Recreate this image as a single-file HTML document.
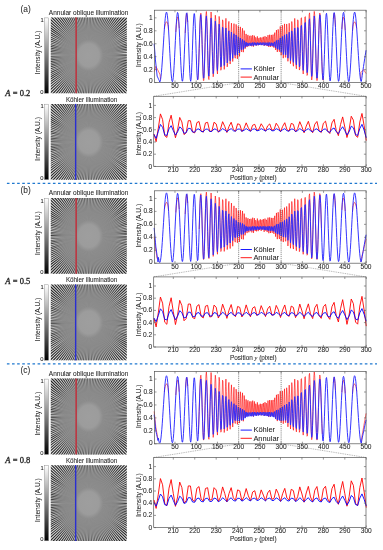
<!DOCTYPE html>
<html><head><meta charset="utf-8"><style>
html,body{margin:0;padding:0;background:#fff}
body{width:383px;height:550px;position:relative;overflow:hidden}
</style></head><body>

<svg width="383" height="550" viewBox="0 0 383 550" style="position:absolute;left:0;top:0">
<style>text{stroke:#333;stroke-width:0.06px}</style>
<defs><linearGradient id="cb" x1="0" y1="0" x2="0" y2="1"><stop offset="0" stop-color="#fff"/><stop offset="1" stop-color="#000"/></linearGradient><radialGradient id="cg" cx="0" cy="0" r="53" gradientUnits="userSpaceOnUse" gradientTransform="scale(1.03,1.13)"><stop offset="0.000" stop-color="#9e9e9e" stop-opacity="1"/><stop offset="0.189" stop-color="#9c9c9c" stop-opacity="1"/><stop offset="0.264" stop-color="#8d8d8d" stop-opacity="0.95"/><stop offset="0.491" stop-color="#8a8a8a" stop-opacity="0.88"/><stop offset="0.585" stop-color="#8a8a8a" stop-opacity="0.6"/><stop offset="0.660" stop-color="#888" stop-opacity="0.3"/><stop offset="0.755" stop-color="#888" stop-opacity="0.1"/><stop offset="1.000" stop-color="#888" stop-opacity="0"/></radialGradient><clipPath id="ic"><rect x="-38" y="-37.9" width="76" height="75.8"/></clipPath><g id="star" clip-path="url(#ic)"><rect x="-40" y="-40" width="80" height="80" fill="#e0e0e0"/><path d="M0 0L80.00 0.00L79.98 1.75ZM0 0L79.92 3.49L79.83 5.23ZM0 0L79.70 6.97L79.52 8.71ZM0 0L79.32 10.44L79.07 12.17ZM0 0L78.78 13.89L78.46 15.61ZM0 0L78.10 17.32L77.71 19.01ZM0 0L77.27 20.71L76.80 22.39ZM0 0L76.30 24.06L75.75 25.72ZM0 0L75.18 27.36L74.56 29.00ZM0 0L73.91 30.61L73.22 32.22ZM0 0L72.50 33.81L71.75 35.38ZM0 0L70.96 36.94L70.14 38.48ZM0 0L69.28 40.00L68.39 41.50ZM0 0L67.47 42.98L66.52 44.45ZM0 0L65.53 45.89L64.52 47.30ZM0 0L63.47 48.70L62.39 50.07ZM0 0L61.28 51.42L60.15 52.75ZM0 0L58.98 54.05L57.79 55.32ZM0 0L56.57 56.57L55.32 57.79ZM0 0L54.05 58.98L52.75 60.15ZM0 0L51.42 61.28L50.07 62.39ZM0 0L48.70 63.47L47.30 64.52ZM0 0L45.89 65.53L44.45 66.52ZM0 0L42.98 67.47L41.50 68.39ZM0 0L40.00 69.28L38.48 70.14ZM0 0L36.94 70.96L35.38 71.75ZM0 0L33.81 72.50L32.22 73.22ZM0 0L30.61 73.91L29.00 74.56ZM0 0L27.36 75.18L25.72 75.75ZM0 0L24.06 76.30L22.39 76.80ZM0 0L20.71 77.27L19.01 77.71ZM0 0L17.32 78.10L15.61 78.46ZM0 0L13.89 78.78L12.17 79.07ZM0 0L10.44 79.32L8.71 79.52ZM0 0L6.97 79.70L5.23 79.83ZM0 0L3.49 79.92L1.75 79.98ZM0 0L0.00 80.00L-1.75 79.98ZM0 0L-3.49 79.92L-5.23 79.83ZM0 0L-6.97 79.70L-8.71 79.52ZM0 0L-10.44 79.32L-12.17 79.07ZM0 0L-13.89 78.78L-15.61 78.46ZM0 0L-17.32 78.10L-19.01 77.71ZM0 0L-20.71 77.27L-22.39 76.80ZM0 0L-24.06 76.30L-25.72 75.75ZM0 0L-27.36 75.18L-29.00 74.56ZM0 0L-30.61 73.91L-32.22 73.22ZM0 0L-33.81 72.50L-35.38 71.75ZM0 0L-36.94 70.96L-38.48 70.14ZM0 0L-40.00 69.28L-41.50 68.39ZM0 0L-42.98 67.47L-44.45 66.52ZM0 0L-45.89 65.53L-47.30 64.52ZM0 0L-48.70 63.47L-50.07 62.39ZM0 0L-51.42 61.28L-52.75 60.15ZM0 0L-54.05 58.98L-55.32 57.79ZM0 0L-56.57 56.57L-57.79 55.32ZM0 0L-58.98 54.05L-60.15 52.75ZM0 0L-61.28 51.42L-62.39 50.07ZM0 0L-63.47 48.70L-64.52 47.30ZM0 0L-65.53 45.89L-66.52 44.45ZM0 0L-67.47 42.98L-68.39 41.50ZM0 0L-69.28 40.00L-70.14 38.48ZM0 0L-70.96 36.94L-71.75 35.38ZM0 0L-72.50 33.81L-73.22 32.22ZM0 0L-73.91 30.61L-74.56 29.00ZM0 0L-75.18 27.36L-75.75 25.72ZM0 0L-76.30 24.06L-76.80 22.39ZM0 0L-77.27 20.71L-77.71 19.01ZM0 0L-78.10 17.32L-78.46 15.61ZM0 0L-78.78 13.89L-79.07 12.17ZM0 0L-79.32 10.44L-79.52 8.71ZM0 0L-79.70 6.97L-79.83 5.23ZM0 0L-79.92 3.49L-79.98 1.75ZM0 0L-80.00 0.00L-79.98 -1.75ZM0 0L-79.92 -3.49L-79.83 -5.23ZM0 0L-79.70 -6.97L-79.52 -8.71ZM0 0L-79.32 -10.44L-79.07 -12.17ZM0 0L-78.78 -13.89L-78.46 -15.61ZM0 0L-78.10 -17.32L-77.71 -19.01ZM0 0L-77.27 -20.71L-76.80 -22.39ZM0 0L-76.30 -24.06L-75.75 -25.72ZM0 0L-75.18 -27.36L-74.56 -29.00ZM0 0L-73.91 -30.61L-73.22 -32.22ZM0 0L-72.50 -33.81L-71.75 -35.38ZM0 0L-70.96 -36.94L-70.14 -38.48ZM0 0L-69.28 -40.00L-68.39 -41.50ZM0 0L-67.47 -42.98L-66.52 -44.45ZM0 0L-65.53 -45.89L-64.52 -47.30ZM0 0L-63.47 -48.70L-62.39 -50.07ZM0 0L-61.28 -51.42L-60.15 -52.75ZM0 0L-58.98 -54.05L-57.79 -55.32ZM0 0L-56.57 -56.57L-55.32 -57.79ZM0 0L-54.05 -58.98L-52.75 -60.15ZM0 0L-51.42 -61.28L-50.07 -62.39ZM0 0L-48.70 -63.47L-47.30 -64.52ZM0 0L-45.89 -65.53L-44.45 -66.52ZM0 0L-42.98 -67.47L-41.50 -68.39ZM0 0L-40.00 -69.28L-38.48 -70.14ZM0 0L-36.94 -70.96L-35.38 -71.75ZM0 0L-33.81 -72.50L-32.22 -73.22ZM0 0L-30.61 -73.91L-29.00 -74.56ZM0 0L-27.36 -75.18L-25.72 -75.75ZM0 0L-24.06 -76.30L-22.39 -76.80ZM0 0L-20.71 -77.27L-19.01 -77.71ZM0 0L-17.32 -78.10L-15.61 -78.46ZM0 0L-13.89 -78.78L-12.17 -79.07ZM0 0L-10.44 -79.32L-8.71 -79.52ZM0 0L-6.97 -79.70L-5.23 -79.83ZM0 0L-3.49 -79.92L-1.75 -79.98ZM0 0L-0.00 -80.00L1.75 -79.98ZM0 0L3.49 -79.92L5.23 -79.83ZM0 0L6.97 -79.70L8.71 -79.52ZM0 0L10.44 -79.32L12.17 -79.07ZM0 0L13.89 -78.78L15.61 -78.46ZM0 0L17.32 -78.10L19.01 -77.71ZM0 0L20.71 -77.27L22.39 -76.80ZM0 0L24.06 -76.30L25.72 -75.75ZM0 0L27.36 -75.18L29.00 -74.56ZM0 0L30.61 -73.91L32.22 -73.22ZM0 0L33.81 -72.50L35.38 -71.75ZM0 0L36.94 -70.96L38.48 -70.14ZM0 0L40.00 -69.28L41.50 -68.39ZM0 0L42.98 -67.47L44.45 -66.52ZM0 0L45.89 -65.53L47.30 -64.52ZM0 0L48.70 -63.47L50.07 -62.39ZM0 0L51.42 -61.28L52.75 -60.15ZM0 0L54.05 -58.98L55.32 -57.79ZM0 0L56.57 -56.57L57.79 -55.32ZM0 0L58.98 -54.05L60.15 -52.75ZM0 0L61.28 -51.42L62.39 -50.07ZM0 0L63.47 -48.70L64.52 -47.30ZM0 0L65.53 -45.89L66.52 -44.45ZM0 0L67.47 -42.98L68.39 -41.50ZM0 0L69.28 -40.00L70.14 -38.48ZM0 0L70.96 -36.94L71.75 -35.38ZM0 0L72.50 -33.81L73.22 -32.22ZM0 0L73.91 -30.61L74.56 -29.00ZM0 0L75.18 -27.36L75.75 -25.72ZM0 0L76.30 -24.06L76.80 -22.39ZM0 0L77.27 -20.71L77.71 -19.01ZM0 0L78.10 -17.32L78.46 -15.61ZM0 0L78.78 -13.89L79.07 -12.17ZM0 0L79.32 -10.44L79.52 -8.71ZM0 0L79.70 -6.97L79.83 -5.23ZM0 0L79.92 -3.49L79.98 -1.75Z" fill="#1a1a1a"/><rect x="-40" y="-40" width="80" height="80" fill="url(#cg)"/></g></defs>
<use href="#star" transform="translate(88.8,55.30)"/>
<use href="#star" transform="translate(88.8,141.85)"/>
<use href="#star" transform="translate(88.8,235.90)"/>
<use href="#star" transform="translate(88.8,322.45)"/>
<use href="#star" transform="translate(88.8,416.50)"/>
<use href="#star" transform="translate(88.8,503.05)"/>
<g transform="translate(0,0)">
<text x="20.5" y="12.2" font-size="8.4" font-family="Liberation Sans, Arial, sans-serif" fill="#2a2a2a">(a)</text>
<text x="88.6" y="14.7" font-size="6.5" text-anchor="middle" font-family="Liberation Sans, Arial, sans-serif" fill="#222">Annular oblique illumination</text>
<text x="65.9" y="101.5" font-size="6.3" font-family="Liberation Sans, Arial, sans-serif" fill="#222">Köhler illumination</text>
<text y="96.4" font-size="8.5" font-family="Liberation Serif, Times New Roman, serif" fill="#222" style="stroke:#222;stroke-width:0.3px"><tspan x="5.3" font-style="italic">A</tspan><tspan x="12.8">=</tspan><tspan x="19.7">0.2</tspan></text>
<rect x="44.5" y="17.9" width="4.1" height="75.3" fill="url(#cb)" stroke="#8a8a8a" stroke-width="0.45"/>
<text x="43.7" y="22.1" font-size="5.8" text-anchor="end" font-family="Liberation Sans, Arial, sans-serif" fill="#222">1</text>
<text x="43.5" y="93.6" font-size="5.8" text-anchor="end" font-family="Liberation Sans, Arial, sans-serif" fill="#222">0</text>
<text transform="translate(39.5,52.5) rotate(-90)" font-size="6.6" text-anchor="middle" font-family="Liberation Sans, Arial, sans-serif" fill="#222">Intensity (A.U.)</text>
<rect x="44.5" y="104.2" width="4.1" height="75.4" fill="url(#cb)" stroke="#8a8a8a" stroke-width="0.45"/>
<text x="43.7" y="108.4" font-size="5.8" text-anchor="end" font-family="Liberation Sans, Arial, sans-serif" fill="#222">1</text>
<text x="43.5" y="180.0" font-size="5.8" text-anchor="end" font-family="Liberation Sans, Arial, sans-serif" fill="#222">0</text>
<text transform="translate(39.5,138.9) rotate(-90)" font-size="6.6" text-anchor="middle" font-family="Liberation Sans, Arial, sans-serif" fill="#222">Intensity (A.U.)</text>
<rect x="75.4" y="17.4" width="1.5" height="75.8" fill="#c0303c"/>
<rect x="74.95" y="103.9" width="1.4" height="75.9" fill="#2a2ed2"/>
<line x1="6.9" y1="183.3" x2="377" y2="183.3" stroke="#1f78cf" stroke-width="1.25" stroke-dasharray="2.6 2.513"/>
<rect x="239" y="61.5" width="42" height="20.5" fill="#fff"/>
<path d="M154.17 71.59L154.60 70.30L155.02 69.00L155.45 67.71L155.87 66.41L156.30 67.19L156.72 67.97L157.15 68.74L157.57 69.52L158.00 70.30L158.42 71.20L158.85 72.11L159.27 73.02L159.69 73.92L160.12 74.83L160.54 79.68M164.37 29.06L164.79 26.13L165.21 24.49L165.64 23.23L166.06 22.31L166.49 21.84L166.91 21.94L167.34 22.69L167.76 24.12L168.19 26.22L168.61 30.74M175.83 32.00L176.25 25.57L176.68 21.52L177.10 18.63L177.53 17.19L177.95 17.42L178.38 19.39L178.80 23.07L179.23 28.55M185.17 33.29L185.59 24.45L186.02 17.98L186.44 14.11L186.87 13.44L187.29 16.22L187.72 22.36M197.48 80.09L197.91 79.45L198.33 73.28L198.76 62.47L199.18 48.77L199.61 34.55L200.03 22.41L200.46 14.73L200.88 13.16L201.31 18.27L201.73 29.29L202.15 44.14L202.58 59.85L203.00 73.05L203.43 80.58L203.85 80.52L204.28 72.67L204.70 58.59L205.13 41.46L205.55 25.35L205.98 14.34L206.40 11.46L206.82 17.83L207.25 31.96L207.67 50.11L208.10 67.20L208.52 78.19L208.95 79.61L209.37 70.75L209.80 54.06L210.22 34.64L210.65 18.74L211.07 11.98L211.50 16.79L211.92 31.53L212.34 51.06L212.77 68.30L213.19 76.81L213.62 73.23L214.04 59.11L214.47 39.96L214.89 23.14L215.32 15.22L215.74 19.55L216.17 34.63L216.59 54.19L217.02 69.68L217.44 73.98L217.86 64.83L218.29 46.21L218.71 26.89L219.14 16.40L219.56 20.34L219.99 36.78L220.41 57.06L220.84 70.26L221.26 69.00L221.69 53.86L222.11 33.46L222.54 19.80L222.96 20.94L223.38 36.58L223.81 57.21L224.23 69.40L224.66 64.64L225.08 45.60L225.51 25.21L225.93 18.34L226.36 30.22L226.78 51.90L227.21 66.87L227.63 63.39L228.06 44.15L228.48 24.73L228.90 21.36L229.33 36.64L229.75 56.90L230.18 64.06L230.60 51.85L231.03 31.88L231.45 23.09L231.88 33.40L232.30 52.79L232.73 61.53L233.15 50.12L233.57 30.35L234.00 23.64L234.42 37.66L234.85 56.58L235.27 58.23L235.70 40.36L236.12 24.38L236.55 29.99L236.97 50.15L237.40 58.85L237.82 44.45L238.25 26.19L238.67 28.97L239.09 48.18L239.52 56.35L239.94 42.16L240.37 26.86L240.79 32.84L241.22 50.07L241.64 51.83L242.07 35.99L242.49 28.24L242.92 40.69L243.34 52.16L243.77 43.75L244.19 30.62L244.61 35.41L245.04 48.84L245.46 46.91L245.89 34.05L246.31 34.12L246.74 46.10L247.16 47.06L247.59 36.14L248.01 34.91L248.44 44.97L248.86 46.24L249.28 36.44L249.71 35.81L250.13 45.48L250.56 45.11L250.98 35.75L251.41 37.52L251.83 46.37L252.26 43.01L252.68 35.15L253.11 40.20L253.53 46.63L253.96 40.11L254.38 35.71L254.80 43.31L255.23 45.28L255.65 37.37L256.08 38.11L256.50 45.49L256.93 42.23L257.35 36.36L257.78 41.67L258.20 45.32L258.63 38.91L259.05 37.93L259.48 44.44L259.90 42.85L260.32 37.34L260.75 41.04L261.17 45.15L261.60 39.57L262.02 37.52L262.45 44.20L262.87 43.59L263.30 36.79L263.72 40.09L264.15 45.89L264.57 40.20L265.00 36.22L265.42 43.54L265.84 45.10L266.27 36.93L266.69 37.92L267.12 46.05L267.54 42.61L267.97 35.13L268.39 40.59L268.82 46.95L269.24 39.86L269.67 34.74L270.09 42.94L270.51 46.82L270.94 37.82L271.36 34.91L271.79 44.37L272.21 46.61L272.64 36.80L273.06 34.58L273.49 45.00L273.91 47.68L274.34 36.42L274.76 32.62L275.19 44.38L275.61 49.95L276.03 38.21L276.46 30.07L276.88 40.80L277.31 51.97L277.73 43.61L278.16 29.36L278.58 33.48L279.01 49.83L279.43 51.72L279.86 35.49L280.28 26.40L280.71 39.26L281.13 55.27L281.55 50.33L281.98 31.11L282.40 25.31L282.83 41.84L283.25 58.16L283.68 51.98L284.10 31.74L284.53 23.89L284.95 38.42L285.38 57.19L285.80 57.41L286.23 39.10L286.65 23.98L287.07 29.40L287.50 49.05L287.92 61.33L288.35 53.36L288.77 33.95L289.20 23.25L289.62 31.71L290.05 51.46L290.47 63.67L290.90 56.57L291.32 36.44L291.75 21.50L292.17 25.27L292.59 44.86L293.02 63.68L293.44 66.22L293.87 50.52L294.29 29.05L294.72 18.40L295.14 26.62L295.57 47.62L295.99 65.87L296.42 68.79L296.84 54.92L297.26 34.00L297.69 19.79L298.11 21.07L298.54 36.51L298.96 56.84L299.39 70.05L299.81 68.51L300.24 53.25L300.66 32.86L301.09 18.49L301.51 17.71L301.94 30.93L302.36 51.10L302.78 68.15L303.21 73.99L303.63 66.17L304.06 48.60L304.48 29.38L304.91 16.98L305.33 16.57L305.76 28.06L306.18 46.51L306.61 64.67L307.03 75.47L307.46 74.87L307.88 63.33L308.30 45.14L308.73 26.82L309.15 14.71L309.58 12.85L310.00 21.78L310.43 38.58L310.85 57.58L311.28 72.87L311.70 79.98L312.13 77.07L312.55 65.25L312.98 48.08L313.40 30.44L313.82 17.07L314.25 11.39L314.67 14.67L315.10 25.89L315.52 42.02L315.95 59.03L316.37 72.90L316.80 80.56L317.22 80.48L317.65 72.94L318.07 59.77L318.49 44.08L318.92 29.25L319.34 18.24L319.77 13.07L320.19 14.55L320.62 22.14L321.04 34.19L321.47 48.37L321.89 62.09L322.32 73.00L322.74 79.34L323.17 80.20L323.59 75.61M333.36 18.96L333.78 14.49L334.20 13.31L334.63 15.34L335.05 20.18L335.48 27.21M341.85 29.19L342.27 23.59L342.70 19.85L343.12 17.70L343.55 17.20L343.97 18.31L344.40 20.93L344.82 24.75L345.24 30.49M352.46 31.54L352.89 26.50L353.31 24.36L353.74 22.88L354.16 22.07L354.59 21.91L355.01 22.33L355.44 23.15L355.86 24.38L356.28 26.00L356.71 28.66M360.53 79.69L360.95 72.24L361.38 71.81L361.80 71.38L362.23 70.94L362.65 70.51L363.08 70.08L363.50 69.65L363.93 70.30L364.35 70.94L364.78 71.59L365.20 72.24L365.63 72.89L366.05 73.53" fill="none" stroke="#f00" stroke-width="0.6" stroke-linejoin="round"/>
<polyline points="154.17,43.75 154.60,49.15 155.02,54.54 155.45,59.94 155.87,63.98 156.30,68.03 156.72,72.08 157.15,76.12 157.57,77.03 158.00,77.94 158.42,78.84 158.85,79.75 159.27,80.66 159.69,82.03 160.12,81.45 160.54,79.68 160.97,76.76 161.39,72.75 161.82,67.79 162.24,62.03 162.67,55.67 163.09,48.93 163.52,42.08 163.94,35.36 164.37,29.06 164.79,23.44 165.21,18.73 165.64,15.17 166.06,12.92 166.49,12.12 166.91,12.89 167.34,15.25 167.76,19.12 168.19,24.36 168.61,30.74 169.04,37.98 169.46,45.73 169.88,53.60 170.31,61.19 170.73,68.08 171.16,73.89 171.58,78.27 172.01,80.93 172.43,81.70 172.86,80.46 173.28,77.25 173.71,72.20 174.13,65.58 174.56,57.76 174.98,49.19 175.40,40.42 175.83,32.00 176.25,24.51 176.68,18.47 177.10,14.35 177.53,12.48 177.95,13.04 178.38,16.04 178.80,21.32 179.23,28.55 179.65,37.24 180.08,46.74 180.50,56.35 180.92,65.29 181.35,72.82 181.77,78.28 182.20,81.14 182.62,81.10 183.05,78.07 183.47,72.25 183.90,64.08 184.32,54.25 184.75,43.66 185.17,33.29 185.59,24.17 186.02,17.25 186.44,13.29 186.87,12.79 187.29,15.86 187.72,22.27 188.14,31.41 188.57,42.36 188.99,53.93 189.42,64.81 189.84,73.69 190.27,79.47 190.69,81.33 191.11,78.94 191.54,72.48 191.96,62.65 192.39,50.67 192.81,38.09 193.24,26.67 193.66,18.04 194.09,13.51 194.51,13.83 194.94,19.00 195.36,28.32 195.79,40.48 196.21,53.70 196.63,65.93 197.06,75.19 197.48,79.89 197.91,79.12 198.33,72.89 198.76,62.13 199.18,48.63 199.61,34.77 200.03,23.11 200.46,15.89 200.88,14.64 201.31,19.76 201.73,30.38 202.15,44.46 202.58,59.15 203.00,71.29 203.43,78.16 203.85,78.09 204.28,70.89 204.70,58.07 205.13,42.53 205.55,28.06 205.98,18.34 206.40,15.95 206.82,21.78 207.25,34.42 207.67,50.49 208.10,65.48 208.52,75.02 208.95,76.16 209.37,68.39 209.80,53.96 210.22,37.33 210.65,23.87 211.07,18.11 211.50,22.14 211.92,34.78 212.34,51.56 212.77,66.38 213.19,73.71 213.62,70.68 214.04,58.59 214.47,42.20 214.89,27.79 215.32,21.16 215.74,25.05 216.17,37.93 216.59,54.34 217.02,67.12 217.44,70.51 217.86,62.89 218.29,47.77 218.71,32.34 219.14,24.18 219.56,27.42 219.99,40.43 220.41,56.42 220.84,66.84 221.26,65.89 221.69,54.00 222.11,37.93 222.54,27.17 222.96,28.25 223.38,40.60 223.81,56.44 224.23,65.52 224.66,61.75 225.08,47.62 225.51,32.88 225.93,28.01 226.36,36.58 226.78,52.20 227.21,62.87 227.63,60.32 228.06,46.69 228.48,33.12 228.90,30.80 229.33,41.49 229.75,55.70 230.18,60.75 230.60,52.21 231.03,38.19 231.45,32.01 231.88,39.39 232.30,52.69 232.73,58.41 233.15,50.75 233.57,37.90 234.00,33.77 234.42,42.74 234.85,54.48 235.27,55.38 235.70,44.51 236.12,35.05 236.55,38.48 236.97,50.20 237.40,55.07 237.82,46.87 238.25,36.83 238.67,38.49 239.09,48.75 239.52,52.86 239.94,45.55 240.37,38.07 240.79,41.09 241.22,49.09 241.64,49.76 242.07,42.69 242.49,39.35 242.92,44.69 243.34,49.40 243.77,45.87 244.19,40.66 244.61,42.57 245.04,47.55 245.46,46.73 245.89,42.24 246.31,42.35 246.74,46.10 247.16,46.25 247.59,43.19 248.01,42.83 248.44,45.50 248.86,45.83 249.28,43.13 249.71,42.93 250.13,45.56 250.56,45.44 250.98,42.81 251.41,43.28 251.83,45.74 252.26,44.77 252.68,42.51 253.11,43.92 253.53,45.75 253.96,43.84 254.38,42.53 254.80,44.73 255.23,45.29 255.65,42.91 256.08,43.10 256.50,45.31 256.93,44.30 257.35,42.46 257.78,44.07 258.20,45.20 258.63,43.15 259.05,42.80 259.48,44.88 259.90,44.34 260.32,42.49 260.75,43.73 261.17,45.10 261.60,43.31 262.02,42.68 262.45,44.84 262.87,44.66 263.30,42.57 263.72,43.62 264.15,45.42 264.57,43.71 265.00,42.54 265.42,44.76 265.84,45.24 266.27,42.86 266.69,43.18 267.12,45.57 267.54,44.60 267.97,42.48 268.39,44.07 268.82,45.89 269.24,43.92 269.67,42.51 270.09,44.83 270.51,45.92 270.94,43.46 271.36,42.69 271.79,45.31 272.21,45.93 272.64,43.30 273.06,42.78 273.49,45.58 273.91,46.49 274.34,43.12 274.76,41.82 275.19,45.79 275.61,47.87 276.03,43.64 276.46,40.50 276.88,44.66 277.31,49.24 277.73,45.89 278.16,39.88 278.58,41.60 279.01,48.81 279.43,49.76 279.86,42.39 280.28,37.96 280.71,44.11 281.13,52.19 281.55,49.81 281.98,39.72 282.40,36.45 282.83,45.41 283.25,54.59 283.68,51.20 284.10,39.56 284.53,34.85 284.95,43.36 285.38,54.67 285.80,54.92 286.23,43.67 286.65,34.10 287.07,37.37 287.50,50.02 287.92,58.18 288.35,53.01 288.77,39.86 289.20,32.21 289.62,38.07 290.05,51.95 290.47,60.50 290.90,55.48 291.32,41.36 291.75,30.89 292.17,33.52 292.59,47.20 293.02,60.48 293.44,62.36 293.87,51.21 294.29,35.77 294.72,28.06 295.14,33.96 295.57,49.09 295.99,62.55 296.42,64.92 296.84,54.65 297.26,38.68 297.69,27.51 298.11,28.25 298.54,40.35 298.96,56.37 299.39,66.75 299.81,65.50 300.24,53.44 300.66,37.37 301.09,26.00 301.51,25.32 301.94,35.65 302.36,51.70 302.78,65.52 303.21,70.42 303.63,64.15 304.06,49.68 304.48,33.60 304.91,23.01 305.33,22.44 305.76,32.06 306.18,47.84 306.61,63.39 307.03,72.62 307.46,72.07 307.88,62.13 308.30,46.51 308.73,30.76 309.15,20.35 309.58,18.80 310.00,26.49 310.43,40.75 310.85,56.99 311.28,70.18 311.70,76.42 312.13,73.99 312.55,63.75 312.98,48.72 313.40,33.14 313.82,21.20 314.25,16.00 314.67,18.76 315.10,28.64 315.52,43.09 315.95,58.48 316.37,71.10 316.80,78.11 317.22,78.06 317.65,71.15 318.07,59.05 318.49,44.46 318.92,30.45 319.34,19.87 319.77,14.72 320.19,15.87 320.62,22.95 321.04,34.48 321.47,48.24 321.89,61.71 322.32,72.54 322.74,78.94 323.17,79.92 323.59,75.47 324.01,66.44 324.44,54.44 324.86,41.38 325.29,29.22 325.71,19.72 326.14,14.19 326.56,13.31 326.99,17.10 327.41,24.92 327.84,35.65 328.26,47.81 328.69,59.79 329.11,70.06 329.53,77.41 329.96,81.03 330.38,80.59 330.81,76.25 331.23,68.63 331.66,58.66 332.08,47.49 332.51,36.37 332.93,26.46 333.36,18.77 333.78,14.00 334.20,12.57 334.63,14.52 335.05,19.58 335.48,27.18 335.90,36.55 336.33,46.79 336.75,56.96 337.18,66.18 337.60,73.66 338.03,78.82 338.45,81.30 338.88,80.95 339.30,77.89 339.72,72.41 340.15,65.01 340.57,56.30 341.00,46.96 341.42,37.70 341.85,29.19 342.27,22.01 342.70,16.62 343.12,13.36 343.55,12.39 343.97,13.78 344.40,17.50 344.82,23.21 345.24,30.49 345.67,38.81 346.09,47.59 346.52,56.27 346.94,64.29 347.37,71.18 347.79,76.53 348.22,80.07 348.64,81.64 349.07,81.18 349.49,78.79 349.92,74.62 350.34,68.97 350.76,62.17 351.19,54.62 351.61,46.72 352.04,38.89 352.46,31.54 352.89,25.01 353.31,19.60 353.74,15.56 354.16,13.04 354.59,12.12 355.01,12.78 355.44,14.92 355.86,18.40 356.28,23.05 356.71,28.66 357.13,34.97 357.56,41.72 357.98,48.63 358.41,55.42 358.83,61.85 359.26,67.67 359.68,72.69 360.11,76.73 360.53,79.69 360.95,81.47 361.38,81.30 361.80,78.33 362.23,75.35 362.65,72.37 363.08,69.39 363.50,66.41 363.93,63.71 364.35,61.02 364.78,58.32 365.20,55.62 365.63,52.92 366.05,50.22" fill="none" stroke="#2a2aff" stroke-width="0.95" stroke-linejoin="round"/>
<rect x="239" y="62" width="42" height="20" fill="#fff"/>
<line x1="240.6" y1="68.9" x2="251.9" y2="68.9" stroke="#00f" stroke-width="0.9"/>
<line x1="240.6" y1="77.1" x2="251.9" y2="77.1" stroke="#f00" stroke-width="0.9"/>
<text x="253.4" y="71.1" font-size="7.5" font-family="Liberation Sans, Arial, sans-serif" fill="#222">Köhler</text>
<text x="253.4" y="79.9" font-size="7.45" font-family="Liberation Sans, Arial, sans-serif" fill="#222">Annular</text>
<line x1="238.67" y1="10.2" x2="238.67" y2="82.6" stroke="#444" stroke-width="0.6" stroke-dasharray="1.2 0.9"/>
<line x1="281.13" y1="10.2" x2="281.13" y2="82.6" stroke="#444" stroke-width="0.6" stroke-dasharray="1.2 0.9"/>
<rect x="154.4" y="10.2" width="211.7" height="72.4" fill="none" stroke="#555" stroke-width="0.7"/>
<line x1="154.4" y1="82.60" x2="156.5" y2="82.60" stroke="#555" stroke-width="0.6"/><line x1="364" y1="82.60" x2="366.1" y2="82.60" stroke="#555" stroke-width="0.6"/>
<text x="152.6" y="83.40" font-size="6.6" text-anchor="end" font-family="Liberation Sans, Arial, sans-serif" fill="#222">0</text>
<line x1="154.4" y1="69.65" x2="156.5" y2="69.65" stroke="#555" stroke-width="0.6"/><line x1="364" y1="69.65" x2="366.1" y2="69.65" stroke="#555" stroke-width="0.6"/>
<text x="152.6" y="71.75" font-size="6.6" text-anchor="end" font-family="Liberation Sans, Arial, sans-serif" fill="#222">0.2</text>
<line x1="154.4" y1="56.70" x2="156.5" y2="56.70" stroke="#555" stroke-width="0.6"/><line x1="364" y1="56.70" x2="366.1" y2="56.70" stroke="#555" stroke-width="0.6"/>
<text x="152.6" y="58.80" font-size="6.6" text-anchor="end" font-family="Liberation Sans, Arial, sans-serif" fill="#222">0.4</text>
<line x1="154.4" y1="43.75" x2="156.5" y2="43.75" stroke="#555" stroke-width="0.6"/><line x1="364" y1="43.75" x2="366.1" y2="43.75" stroke="#555" stroke-width="0.6"/>
<text x="152.6" y="45.85" font-size="6.6" text-anchor="end" font-family="Liberation Sans, Arial, sans-serif" fill="#222">0.6</text>
<line x1="154.4" y1="30.80" x2="156.5" y2="30.80" stroke="#555" stroke-width="0.6"/><line x1="364" y1="30.80" x2="366.1" y2="30.80" stroke="#555" stroke-width="0.6"/>
<text x="152.6" y="32.90" font-size="6.6" text-anchor="end" font-family="Liberation Sans, Arial, sans-serif" fill="#222">0.8</text>
<line x1="154.4" y1="17.85" x2="156.5" y2="17.85" stroke="#555" stroke-width="0.6"/><line x1="364" y1="17.85" x2="366.1" y2="17.85" stroke="#555" stroke-width="0.6"/>
<text x="152.6" y="19.95" font-size="6.6" text-anchor="end" font-family="Liberation Sans, Arial, sans-serif" fill="#222">1</text>
<line x1="174.98" y1="82.6" x2="174.98" y2="80.5" stroke="#555" stroke-width="0.6"/><line x1="174.98" y1="10.2" x2="174.98" y2="12.3" stroke="#555" stroke-width="0.6"/>
<text x="174.98" y="88" font-size="6.6" text-anchor="middle" font-family="Liberation Sans, Arial, sans-serif" fill="#222">50</text>
<line x1="196.21" y1="82.6" x2="196.21" y2="80.5" stroke="#555" stroke-width="0.6"/><line x1="196.21" y1="10.2" x2="196.21" y2="12.3" stroke="#555" stroke-width="0.6"/>
<text x="196.21" y="88" font-size="6.6" text-anchor="middle" font-family="Liberation Sans, Arial, sans-serif" fill="#222">100</text>
<line x1="217.44" y1="82.6" x2="217.44" y2="80.5" stroke="#555" stroke-width="0.6"/><line x1="217.44" y1="10.2" x2="217.44" y2="12.3" stroke="#555" stroke-width="0.6"/>
<text x="217.44" y="88" font-size="6.6" text-anchor="middle" font-family="Liberation Sans, Arial, sans-serif" fill="#222">150</text>
<line x1="238.67" y1="82.6" x2="238.67" y2="80.5" stroke="#555" stroke-width="0.6"/><line x1="238.67" y1="10.2" x2="238.67" y2="12.3" stroke="#555" stroke-width="0.6"/>
<text x="238.67" y="88" font-size="6.6" text-anchor="middle" font-family="Liberation Sans, Arial, sans-serif" fill="#222">200</text>
<line x1="259.90" y1="82.6" x2="259.90" y2="80.5" stroke="#555" stroke-width="0.6"/><line x1="259.90" y1="10.2" x2="259.90" y2="12.3" stroke="#555" stroke-width="0.6"/>
<text x="259.90" y="88" font-size="6.6" text-anchor="middle" font-family="Liberation Sans, Arial, sans-serif" fill="#222">250</text>
<line x1="281.13" y1="82.6" x2="281.13" y2="80.5" stroke="#555" stroke-width="0.6"/><line x1="281.13" y1="10.2" x2="281.13" y2="12.3" stroke="#555" stroke-width="0.6"/>
<text x="281.13" y="88" font-size="6.6" text-anchor="middle" font-family="Liberation Sans, Arial, sans-serif" fill="#222">300</text>
<line x1="302.36" y1="82.6" x2="302.36" y2="80.5" stroke="#555" stroke-width="0.6"/><line x1="302.36" y1="10.2" x2="302.36" y2="12.3" stroke="#555" stroke-width="0.6"/>
<text x="302.36" y="88" font-size="6.6" text-anchor="middle" font-family="Liberation Sans, Arial, sans-serif" fill="#222">350</text>
<line x1="323.59" y1="82.6" x2="323.59" y2="80.5" stroke="#555" stroke-width="0.6"/><line x1="323.59" y1="10.2" x2="323.59" y2="12.3" stroke="#555" stroke-width="0.6"/>
<text x="323.59" y="88" font-size="6.6" text-anchor="middle" font-family="Liberation Sans, Arial, sans-serif" fill="#222">400</text>
<line x1="344.82" y1="82.6" x2="344.82" y2="80.5" stroke="#555" stroke-width="0.6"/><line x1="344.82" y1="10.2" x2="344.82" y2="12.3" stroke="#555" stroke-width="0.6"/>
<text x="344.82" y="88" font-size="6.6" text-anchor="middle" font-family="Liberation Sans, Arial, sans-serif" fill="#222">450</text>
<line x1="366.05" y1="82.6" x2="366.05" y2="80.5" stroke="#555" stroke-width="0.6"/><line x1="366.05" y1="10.2" x2="366.05" y2="12.3" stroke="#555" stroke-width="0.6"/>
<text x="366.05" y="88" font-size="6.6" text-anchor="middle" font-family="Liberation Sans, Arial, sans-serif" fill="#222">500</text>
<text transform="translate(140.8,45.1) rotate(-90)" font-size="6.6" text-anchor="middle" font-family="Liberation Sans, Arial, sans-serif" fill="#222">Intensity (A.U.)</text>
<line x1="238.67" y1="82.6" x2="153.7" y2="96.3" stroke="#666" stroke-width="0.5" stroke-dasharray="1 0.8"/>
<line x1="281.13" y1="82.6" x2="366" y2="96.3" stroke="#666" stroke-width="0.5" stroke-dasharray="1 0.8"/>
<polyline points="154.00,133.98 156.14,141.67 158.29,128.30 160.43,113.89 162.58,119.52 164.72,135.76 166.86,137.41 169.01,122.49 171.15,115.19 173.30,126.92 175.44,137.72 177.58,129.80 179.73,117.43 181.87,121.94 184.02,134.60 186.16,132.78 188.30,120.66 190.45,120.73 192.59,132.01 194.74,132.92 196.88,122.63 199.02,121.47 201.17,130.95 203.31,132.15 205.46,122.91 207.60,122.32 209.74,131.43 211.89,131.08 214.03,122.26 216.18,123.93 218.32,132.26 220.46,129.10 222.61,121.70 224.75,126.46 226.90,132.51 229.04,126.37 231.18,122.23 233.33,129.39 235.47,131.24 237.62,123.79 239.76,124.49 241.90,131.44 244.05,128.37 246.19,122.84 248.34,127.84 250.48,131.28 252.62,125.24 254.77,124.32 256.91,130.45 259.06,128.95 261.20,123.76 263.34,127.25 265.49,131.12 267.63,125.86 269.78,123.93 271.92,130.23 274.06,129.65 276.21,123.24 278.35,126.35 280.50,131.82 282.64,126.46 284.78,122.71 286.93,129.61 289.07,131.07 291.22,123.38 293.36,124.31 295.50,131.96 297.65,128.72 299.79,121.68 301.94,126.83 304.08,132.81 306.22,126.14 308.37,121.31 310.51,129.04 312.66,132.69 314.80,124.22 316.94,121.47 319.09,130.38 321.23,132.50 323.38,123.26 325.52,121.16 327.66,130.97 329.81,133.51 331.95,122.89 334.10,119.32 336.24,130.39 338.38,135.64 340.53,124.58 342.67,116.91 344.82,127.02 346.96,137.54 349.10,129.67 351.25,116.24 353.39,120.12 355.54,135.53 357.68,137.31 359.82,122.02 361.97,113.45 364.11,125.57 366.26,140.65" fill="none" stroke="#f00" stroke-width="0.9" stroke-linejoin="round"/>
<polyline points="154.00,134.51 156.14,138.38 158.29,131.49 160.43,124.45 162.58,127.30 164.72,134.83 166.86,135.47 169.01,128.80 171.15,125.66 173.30,130.69 175.44,135.13 177.58,131.80 179.73,126.89 181.87,128.69 184.02,133.38 186.16,132.61 188.30,128.38 190.45,128.48 192.59,132.01 194.74,132.15 196.88,129.27 199.02,128.94 201.17,131.45 203.31,131.76 205.46,129.22 207.60,129.03 209.74,131.51 211.89,131.39 214.03,128.92 216.18,129.35 218.32,131.67 220.46,130.76 222.61,128.63 224.75,129.96 226.90,131.68 229.04,129.88 231.18,128.65 233.33,130.72 235.47,131.25 237.62,129.01 239.76,129.19 241.90,131.27 244.05,130.31 246.19,128.58 248.34,130.10 250.48,131.17 252.62,129.23 254.77,128.90 256.91,130.86 259.06,130.35 261.20,128.61 263.34,129.78 265.49,131.07 267.63,129.38 269.78,128.79 271.92,130.82 274.06,130.66 276.21,128.68 278.35,129.68 280.50,131.37 282.64,129.76 284.78,128.66 286.93,130.75 289.07,131.21 291.22,128.96 293.36,129.27 295.50,131.52 297.65,130.60 299.79,128.60 301.94,130.10 304.08,131.82 306.22,129.96 308.37,128.63 310.51,130.81 312.66,131.85 314.80,129.53 316.94,128.80 319.09,131.27 321.23,131.86 323.38,129.38 325.52,128.89 327.66,131.53 329.81,132.38 331.95,129.20 334.10,127.98 336.24,131.72 338.38,133.68 340.53,129.69 342.67,126.74 344.82,130.66 346.96,134.97 349.10,131.82 351.25,126.15 353.39,127.77 355.54,134.57 357.68,135.46 359.82,128.52 361.97,124.35 364.11,130.14 366.26,137.75" fill="none" stroke="#00f" stroke-width="0.9" stroke-linejoin="round"/>
<rect x="153.7" y="96.3" width="212.3" height="70.1" fill="none" stroke="#555" stroke-width="0.7"/>
<line x1="153.9" y1="166.40" x2="156" y2="166.40" stroke="#555" stroke-width="0.6"/><line x1="363.9" y1="166.40" x2="366" y2="166.40" stroke="#555" stroke-width="0.6"/>
<text x="152.2" y="168.50" font-size="6.6" text-anchor="end" font-family="Liberation Sans, Arial, sans-serif" fill="#222">0</text>
<line x1="153.9" y1="154.20" x2="156" y2="154.20" stroke="#555" stroke-width="0.6"/><line x1="363.9" y1="154.20" x2="366" y2="154.20" stroke="#555" stroke-width="0.6"/>
<text x="152.2" y="156.30" font-size="6.6" text-anchor="end" font-family="Liberation Sans, Arial, sans-serif" fill="#222">0.2</text>
<line x1="153.9" y1="142.00" x2="156" y2="142.00" stroke="#555" stroke-width="0.6"/><line x1="363.9" y1="142.00" x2="366" y2="142.00" stroke="#555" stroke-width="0.6"/>
<text x="152.2" y="144.10" font-size="6.6" text-anchor="end" font-family="Liberation Sans, Arial, sans-serif" fill="#222">0.4</text>
<line x1="153.9" y1="129.80" x2="156" y2="129.80" stroke="#555" stroke-width="0.6"/><line x1="363.9" y1="129.80" x2="366" y2="129.80" stroke="#555" stroke-width="0.6"/>
<text x="152.2" y="131.90" font-size="6.6" text-anchor="end" font-family="Liberation Sans, Arial, sans-serif" fill="#222">0.6</text>
<line x1="153.9" y1="117.60" x2="156" y2="117.60" stroke="#555" stroke-width="0.6"/><line x1="363.9" y1="117.60" x2="366" y2="117.60" stroke="#555" stroke-width="0.6"/>
<text x="152.2" y="119.70" font-size="6.6" text-anchor="end" font-family="Liberation Sans, Arial, sans-serif" fill="#222">0.8</text>
<line x1="153.9" y1="105.40" x2="156" y2="105.40" stroke="#555" stroke-width="0.6"/><line x1="363.9" y1="105.40" x2="366" y2="105.40" stroke="#555" stroke-width="0.6"/>
<text x="152.2" y="107.50" font-size="6.6" text-anchor="end" font-family="Liberation Sans, Arial, sans-serif" fill="#222">1</text>
<line x1="173.30" y1="166.4" x2="173.30" y2="164.3" stroke="#555" stroke-width="0.6"/><line x1="173.30" y1="96.3" x2="173.30" y2="98.4" stroke="#555" stroke-width="0.6"/>
<text x="173.30" y="171.9" font-size="6.6" text-anchor="middle" font-family="Liberation Sans, Arial, sans-serif" fill="#222">210</text>
<line x1="194.74" y1="166.4" x2="194.74" y2="164.3" stroke="#555" stroke-width="0.6"/><line x1="194.74" y1="96.3" x2="194.74" y2="98.4" stroke="#555" stroke-width="0.6"/>
<text x="194.74" y="171.9" font-size="6.6" text-anchor="middle" font-family="Liberation Sans, Arial, sans-serif" fill="#222">220</text>
<line x1="216.18" y1="166.4" x2="216.18" y2="164.3" stroke="#555" stroke-width="0.6"/><line x1="216.18" y1="96.3" x2="216.18" y2="98.4" stroke="#555" stroke-width="0.6"/>
<text x="216.18" y="171.9" font-size="6.6" text-anchor="middle" font-family="Liberation Sans, Arial, sans-serif" fill="#222">230</text>
<line x1="237.62" y1="166.4" x2="237.62" y2="164.3" stroke="#555" stroke-width="0.6"/><line x1="237.62" y1="96.3" x2="237.62" y2="98.4" stroke="#555" stroke-width="0.6"/>
<text x="237.62" y="171.9" font-size="6.6" text-anchor="middle" font-family="Liberation Sans, Arial, sans-serif" fill="#222">240</text>
<line x1="259.06" y1="166.4" x2="259.06" y2="164.3" stroke="#555" stroke-width="0.6"/><line x1="259.06" y1="96.3" x2="259.06" y2="98.4" stroke="#555" stroke-width="0.6"/>
<text x="259.06" y="171.9" font-size="6.6" text-anchor="middle" font-family="Liberation Sans, Arial, sans-serif" fill="#222">250</text>
<line x1="280.50" y1="166.4" x2="280.50" y2="164.3" stroke="#555" stroke-width="0.6"/><line x1="280.50" y1="96.3" x2="280.50" y2="98.4" stroke="#555" stroke-width="0.6"/>
<text x="280.50" y="171.9" font-size="6.6" text-anchor="middle" font-family="Liberation Sans, Arial, sans-serif" fill="#222">260</text>
<line x1="301.94" y1="166.4" x2="301.94" y2="164.3" stroke="#555" stroke-width="0.6"/><line x1="301.94" y1="96.3" x2="301.94" y2="98.4" stroke="#555" stroke-width="0.6"/>
<text x="301.94" y="171.9" font-size="6.6" text-anchor="middle" font-family="Liberation Sans, Arial, sans-serif" fill="#222">270</text>
<line x1="323.38" y1="166.4" x2="323.38" y2="164.3" stroke="#555" stroke-width="0.6"/><line x1="323.38" y1="96.3" x2="323.38" y2="98.4" stroke="#555" stroke-width="0.6"/>
<text x="323.38" y="171.9" font-size="6.6" text-anchor="middle" font-family="Liberation Sans, Arial, sans-serif" fill="#222">280</text>
<line x1="344.82" y1="166.4" x2="344.82" y2="164.3" stroke="#555" stroke-width="0.6"/><line x1="344.82" y1="96.3" x2="344.82" y2="98.4" stroke="#555" stroke-width="0.6"/>
<text x="344.82" y="171.9" font-size="6.6" text-anchor="middle" font-family="Liberation Sans, Arial, sans-serif" fill="#222">290</text>
<line x1="366.26" y1="166.4" x2="366.26" y2="164.3" stroke="#555" stroke-width="0.6"/><line x1="366.26" y1="96.3" x2="366.26" y2="98.4" stroke="#555" stroke-width="0.6"/>
<text x="366.26" y="171.9" font-size="6.6" text-anchor="middle" font-family="Liberation Sans, Arial, sans-serif" fill="#222">300</text>
<text transform="translate(140.6,133.8) rotate(-90)" font-size="6.6" text-anchor="middle" font-family="Liberation Sans, Arial, sans-serif" fill="#222">Intensity (A.U.)</text>
<text x="230" y="179.5" font-size="6.4" font-family="Liberation Sans, Arial, sans-serif" fill="#222">Position <tspan font-family="Liberation Serif, serif" font-style="italic">y</tspan> (pixel)</text>
</g>
<g transform="translate(0,180.6)">
<text x="20.5" y="12.2" font-size="8.4" font-family="Liberation Sans, Arial, sans-serif" fill="#2a2a2a">(b)</text>
<text x="88.6" y="14.7" font-size="6.5" text-anchor="middle" font-family="Liberation Sans, Arial, sans-serif" fill="#222">Annular oblique illumination</text>
<text x="65.9" y="101.5" font-size="6.3" font-family="Liberation Sans, Arial, sans-serif" fill="#222">Köhler illumination</text>
<text y="103.3" font-size="8.5" font-family="Liberation Serif, Times New Roman, serif" fill="#222" style="stroke:#222;stroke-width:0.3px"><tspan x="5.3" font-style="italic">A</tspan><tspan x="12.8">=</tspan><tspan x="19.7">0.5</tspan></text>
<rect x="44.5" y="17.9" width="4.1" height="75.3" fill="url(#cb)" stroke="#8a8a8a" stroke-width="0.45"/>
<text x="43.7" y="22.1" font-size="5.8" text-anchor="end" font-family="Liberation Sans, Arial, sans-serif" fill="#222">1</text>
<text x="43.5" y="93.6" font-size="5.8" text-anchor="end" font-family="Liberation Sans, Arial, sans-serif" fill="#222">0</text>
<text transform="translate(39.5,52.5) rotate(-90)" font-size="6.6" text-anchor="middle" font-family="Liberation Sans, Arial, sans-serif" fill="#222">Intensity (A.U.)</text>
<rect x="44.5" y="104.2" width="4.1" height="75.4" fill="url(#cb)" stroke="#8a8a8a" stroke-width="0.45"/>
<text x="43.7" y="108.4" font-size="5.8" text-anchor="end" font-family="Liberation Sans, Arial, sans-serif" fill="#222">1</text>
<text x="43.5" y="180.0" font-size="5.8" text-anchor="end" font-family="Liberation Sans, Arial, sans-serif" fill="#222">0</text>
<text transform="translate(39.5,138.9) rotate(-90)" font-size="6.6" text-anchor="middle" font-family="Liberation Sans, Arial, sans-serif" fill="#222">Intensity (A.U.)</text>
<rect x="75.4" y="17.4" width="1.5" height="75.8" fill="#c0303c"/>
<rect x="74.95" y="103.9" width="1.4" height="75.9" fill="#2a2ed2"/>
<line x1="6.9" y1="183.3" x2="377" y2="183.3" stroke="#1f78cf" stroke-width="1.25" stroke-dasharray="2.6 2.513"/>
<rect x="239" y="61.5" width="42" height="20.5" fill="#fff"/>
<path d="M154.17 56.05L154.60 59.45L155.02 62.85L155.45 66.25L155.87 69.65L156.30 72.46L156.72 75.26L157.15 78.07L157.57 77.85L158.00 77.64L158.42 77.42L158.85 79.60M164.37 29.13L164.79 26.16L165.21 24.53L165.64 23.28L166.06 22.36L166.49 21.89L166.91 22.00L167.34 22.75L167.76 24.18L168.19 26.26L168.61 30.82M175.83 32.10L176.25 25.67L176.68 21.66L177.10 18.79L177.53 17.37L177.95 17.61L178.38 19.57L178.80 23.22L179.23 28.71M185.17 33.44L185.59 24.69L186.02 18.30L186.44 14.48L186.87 13.83L187.29 16.59L187.72 22.66M199.18 48.49L199.61 34.28L200.03 22.21L200.46 14.62L200.88 13.10L201.31 18.15L201.73 28.96L202.15 43.48L202.58 58.76L203.00 71.52L203.43 78.79L203.85 78.71L204.28 71.04L204.70 57.31L205.13 40.62L205.55 24.98L205.98 14.31L206.40 11.54L206.82 17.77L207.25 31.54L207.67 49.21L208.10 65.85L208.52 76.56L208.95 77.97L209.37 69.38L209.80 53.20L210.22 34.36L210.65 18.95L211.07 12.38L211.50 17.05L211.92 31.41L212.34 50.50L212.77 67.41L213.19 75.81L213.62 72.38L214.04 58.57L214.47 39.77L214.89 23.20L215.32 15.39L215.74 19.68L216.17 34.61L216.59 53.98L217.02 69.35L217.44 73.66L217.86 64.64L218.29 46.22L218.71 27.08L219.14 16.68L219.56 20.51L219.99 36.90L220.41 57.39L220.84 70.94L221.26 69.87L221.69 54.45L222.11 33.34L222.54 18.99L222.96 20.22L223.38 36.66L223.81 58.18L224.23 70.81L224.66 65.83L225.08 46.19L225.51 25.30L225.93 18.18L226.36 30.34L226.78 53.00L227.21 68.97L227.63 65.59L228.06 45.26L228.48 24.40L228.90 20.73L229.33 37.42L229.75 59.80L230.18 67.95L230.60 54.61L231.03 32.38L231.45 22.47L231.88 34.33L232.30 56.09L232.73 65.64L233.15 53.16L233.57 32.05L234.00 25.27L234.42 40.21L234.85 59.85L235.27 61.56L235.70 43.40L236.12 27.38L236.55 33.23L236.97 53.50L237.40 62.16L237.82 48.00L238.25 30.10L238.67 32.72L239.09 52.35L239.52 61.29L239.94 46.44L240.37 29.55L240.79 36.09L241.22 56.29L241.64 58.50L242.07 39.60L242.49 30.34L242.92 45.14L243.34 58.79L243.77 48.73L244.19 33.01L244.61 38.70L245.04 54.74L245.46 52.40L245.89 36.96L246.31 37.01L246.74 51.35L247.16 52.49L247.59 39.32L248.01 37.59L248.44 50.13L248.86 51.72L249.28 39.25L249.71 38.40L250.13 50.72L250.56 50.24L250.98 38.14L251.41 40.38L251.83 51.86L252.26 47.46L252.68 37.09L253.11 43.71L253.53 52.22L253.96 43.50L254.38 37.56L254.80 47.76L255.23 50.42L255.65 39.59L256.08 40.54L256.50 50.73L256.93 46.19L257.35 37.90L257.78 45.33L258.20 50.54L258.63 41.31L259.05 39.82L259.48 49.30L259.90 46.94L260.32 38.70L260.75 44.24L261.17 50.34L261.60 42.16L262.02 39.25L262.45 48.93L262.87 48.06L263.30 38.45L263.72 43.16L264.15 51.29L264.57 43.41L265.00 37.97L265.42 48.05L265.84 50.18L266.27 39.16L266.69 40.55L267.12 51.44L267.54 46.88L267.97 37.03L268.39 44.28L268.82 52.62L269.24 43.39L269.67 36.80L270.09 47.44L270.51 52.44L270.94 40.94L271.36 37.28L271.79 49.34L272.21 52.19L272.64 39.85L273.06 37.32L273.49 49.99L273.91 53.24L274.34 39.74L274.76 35.23L275.19 49.35L275.61 56.05L276.03 42.03L276.46 32.33L276.88 45.19L277.31 58.55L277.73 48.61L278.16 31.64L278.58 36.59L279.01 56.10L279.43 58.38L279.86 39.10L280.28 28.84L280.71 43.34L281.13 60.45L281.55 54.78L281.98 34.80L282.40 29.14L282.83 45.50L283.25 61.46L283.68 55.35L284.10 35.10L284.53 27.02L284.95 41.50L285.38 60.50L285.80 60.71L286.23 41.80L286.65 25.85L287.07 31.22L287.50 52.01L287.92 65.34L288.35 56.71L288.77 35.08L289.20 22.76L289.62 32.21L290.05 54.28L290.47 67.68L290.90 59.56L291.32 37.25L291.75 20.87L292.17 24.97L292.59 46.10L293.02 66.07L293.44 68.47L293.87 51.66L294.29 29.10L294.72 18.13L295.14 26.74L295.57 48.29L295.99 67.08L296.42 70.14L296.84 55.80L297.26 34.01L297.69 19.08L298.11 20.30L298.54 36.50L298.96 57.61L299.39 71.07L299.81 69.29L300.24 53.59L300.66 32.94L301.09 18.58L301.51 17.95L301.94 31.10L302.36 51.09L302.78 67.96L303.21 73.71L303.63 65.91L304.06 48.47L304.48 29.43L304.91 17.16L305.33 16.73L305.76 28.06L306.18 46.25L306.61 64.08L307.03 74.62L307.46 73.95L307.88 62.58L308.30 44.74L308.73 26.82L309.15 15.01L309.58 13.22L310.00 21.91L310.43 38.21L310.85 56.64L311.28 71.46L311.70 78.35L312.13 75.49L312.55 63.97L312.98 47.26L313.40 30.08L313.82 17.05L314.25 11.50L314.67 14.65L315.10 25.52L315.52 41.18L315.95 57.73L316.37 71.25L316.80 78.73L317.22 78.68L317.65 71.36L318.07 58.61L318.49 43.38L318.92 28.91L319.34 18.12L319.77 13.03L320.19 14.46L320.62 21.94L321.04 33.90L321.47 48.05M333.36 19.30L333.78 14.88L334.20 13.70L334.63 15.70L335.05 20.48L335.48 27.41M341.85 29.34L342.27 23.73L342.70 20.02L343.12 17.89L343.55 17.38L343.97 18.48L344.40 21.07L344.82 24.86L345.24 30.60M352.46 31.61L352.89 26.55L353.31 24.41L353.74 22.93L354.16 22.13L354.59 21.97L355.01 22.38L355.44 23.19L355.86 24.42L356.28 26.03L356.71 28.73M360.95 81.38L361.38 78.07L361.80 76.27L362.23 74.48L362.65 72.68L363.08 70.89L363.50 69.09L363.93 67.30L364.35 65.50L364.78 63.70L365.20 61.91L365.63 60.11L366.05 58.32" fill="none" stroke="#f00" stroke-width="0.6" stroke-linejoin="round"/>
<polyline points="154.17,47.31 154.60,52.09 155.02,56.86 155.45,61.64 155.87,66.41 156.30,69.39 156.72,72.37 157.15,75.35 157.57,78.33 158.00,81.30 158.42,76.80 158.85,79.60 159.27,81.34 159.69,81.94 160.12,81.36 160.54,79.59 160.97,76.67 161.39,72.68 161.82,67.73 162.24,61.98 162.67,55.64 163.09,48.93 163.52,42.10 163.94,35.41 164.37,29.13 164.79,23.53 165.21,18.85 165.64,15.30 166.06,13.07 166.49,12.27 166.91,13.04 167.34,15.39 167.76,19.25 168.19,24.47 168.61,30.82 169.04,38.03 169.46,45.73 169.88,53.56 170.31,61.11 170.73,67.96 171.16,73.74 171.58,78.09 172.01,80.74 172.43,81.49 172.86,80.26 173.28,77.06 173.71,72.04 174.13,65.46 174.56,57.68 174.98,49.18 175.40,40.46 175.83,32.10 176.25,24.67 176.68,18.68 177.10,14.59 177.53,12.74 177.95,13.31 178.38,16.29 178.80,21.54 179.23,28.71 179.65,37.32 180.08,46.74 180.50,56.26 180.92,65.12 181.35,72.58 181.77,77.98 182.20,80.81 182.62,80.76 183.05,77.76 183.47,71.98 183.90,63.90 184.32,54.17 184.75,43.69 185.17,33.44 185.59,24.43 186.02,17.59 186.44,13.69 186.87,13.20 187.29,16.24 187.72,22.57 188.14,31.61 188.57,42.42 188.99,53.84 189.42,64.57 189.84,73.34 190.27,79.03 190.69,80.86 191.11,78.50 191.54,72.12 191.96,62.43 192.39,50.62 192.81,38.21 193.24,26.90 193.66,18.31 194.09,13.74 194.51,13.99 194.94,19.08 195.36,28.33 195.79,40.47 196.21,53.73 196.63,66.04 197.06,75.37 197.48,80.10 197.91,79.33 198.33,73.06 198.76,62.23 199.18,48.64 199.61,34.70 200.03,22.96 200.46,15.71 200.88,14.45 201.31,19.60 201.73,30.28 202.15,44.45 202.58,59.22 203.00,71.43 203.43,78.34 203.85,78.26 204.28,71.03 204.70,58.13 205.13,42.51 205.55,27.93 205.98,18.05 206.40,15.62 206.82,21.56 207.25,34.42 207.67,50.77 208.10,66.04 208.52,75.78 208.95,76.98 209.37,69.14 209.80,54.50 210.22,37.62 210.65,23.94 211.07,18.24 211.50,22.55 211.92,35.37 212.34,52.20 212.77,66.97 213.19,74.21 213.62,71.15 214.04,59.21 214.47,43.13 214.89,29.12 215.32,22.70 215.74,26.52 216.17,39.12 216.59,55.21 217.02,67.78 217.44,71.16 217.86,63.75 218.29,48.94 218.71,33.80 219.14,25.78 219.56,29.03 219.99,41.88 220.41,57.59 220.84,67.72 221.26,66.73 221.69,55.22 222.11,39.84 222.54,29.69 222.96,30.76 223.38,42.52 223.81,57.72 224.23,66.51 224.66,62.98 225.08,49.39 225.51,35.12 225.93,30.43 226.36,38.81 226.78,54.02 227.21,64.53 227.63,62.16 228.06,48.83 228.48,35.42 228.90,33.27 229.33,43.92 229.75,57.69 230.18,62.41 230.60,54.27 231.03,41.35 231.45,35.93 231.88,42.66 232.30,54.74 232.73,59.95 233.15,53.05 233.57,41.57 234.00,37.97 234.42,46.03 234.85,56.42 235.27,57.16 235.70,47.77 236.12,39.79 236.55,42.83 236.97,52.65 237.40,56.70 237.82,49.99 238.25,41.63 238.67,42.94 239.09,51.89 239.52,55.76 239.94,49.20 240.37,42.06 240.79,44.91 241.22,53.13 241.64,53.93 242.07,46.43 242.49,42.84 242.92,48.56 243.34,53.67 243.77,49.84 244.19,44.06 244.61,46.15 245.04,51.79 245.46,50.89 245.89,45.65 246.31,45.72 246.74,50.28 247.16,50.52 247.59,46.58 248.01,46.09 248.44,49.64 248.86,50.07 249.28,46.49 249.71,46.23 250.13,49.71 250.56,49.55 250.98,46.08 251.41,46.70 251.83,49.93 252.26,48.66 252.68,45.69 253.11,47.54 253.53,49.93 253.96,47.44 254.38,45.73 254.80,48.59 255.23,49.31 255.65,46.24 256.08,46.48 256.50,49.32 256.93,48.02 257.35,45.67 257.78,47.73 258.20,49.16 258.63,46.55 259.05,46.12 259.48,48.73 259.90,48.05 260.32,45.74 260.75,47.29 261.17,49.01 261.60,46.76 262.02,45.97 262.45,48.70 262.87,48.48 263.30,45.81 263.72,47.15 264.15,49.46 264.57,47.27 265.00,45.77 265.42,48.63 265.84,49.26 266.27,46.17 266.69,46.59 267.12,49.69 267.54,48.43 267.97,45.66 268.39,47.74 268.82,50.13 269.24,47.54 269.67,45.69 270.09,48.74 270.51,50.19 270.94,46.94 271.36,45.92 271.79,49.38 272.21,50.22 272.64,46.72 273.06,46.02 273.49,49.71 273.91,50.80 274.34,46.62 274.76,45.12 275.19,49.81 275.61,52.19 276.03,47.34 276.46,43.85 276.88,48.51 277.31,53.52 277.73,49.86 278.16,43.38 278.58,45.26 279.01,52.94 279.43,53.91 279.86,46.19 280.28,41.86 280.71,47.88 281.13,55.31 281.55,52.93 281.98,43.96 282.40,41.24 282.83,48.82 283.25,56.34 283.68,53.49 284.10,43.80 284.53,39.72 284.95,46.82 285.38,56.53 285.80,56.79 286.23,46.89 286.65,38.33 287.07,41.15 287.50,52.41 287.92,59.74 288.35,55.05 288.77,43.10 289.20,36.20 289.62,41.34 290.05,54.01 290.47,62.08 290.90,57.44 291.32,43.86 291.75,33.51 292.17,35.87 292.59,49.37 293.02,62.39 293.44,64.11 293.87,53.10 294.29,38.04 294.72,30.51 295.14,36.19 295.57,50.84 295.99,63.80 296.42,65.99 296.84,56.03 297.26,40.70 297.69,30.04 298.11,30.76 298.54,42.20 298.96,57.49 299.39,67.51 299.81,66.37 300.24,54.67 300.66,38.92 301.09,27.68 301.51,26.93 301.94,37.07 302.36,52.84 302.78,66.36 303.21,71.11 303.63,64.90 304.06,50.68 304.48,34.91 304.91,24.53 305.33,23.96 305.76,33.33 306.18,48.68 306.61,63.91 307.03,73.03 307.46,72.55 307.88,62.74 308.30,47.18 308.73,31.39 309.15,20.85 309.58,19.09 310.00,26.67 310.43,41.11 310.85,57.61 311.28,70.98 311.70,77.28 312.13,74.76 312.55,64.30 312.98,49.00 313.40,33.13 313.82,20.99 314.25,15.68 314.67,18.45 315.10,28.49 315.52,43.07 315.95,58.55 316.37,71.24 316.80,78.28 317.22,78.24 317.65,71.29 318.07,59.12 318.49,44.44 318.92,30.35 319.34,19.71 319.77,14.53 320.19,15.68 320.62,22.80 321.04,34.40 321.47,48.24 321.89,61.80 322.32,72.70 322.74,79.14 323.17,80.13 323.59,75.65 324.01,66.56 324.44,54.47 324.86,41.36 325.29,29.20 325.71,19.76 326.14,14.30 326.56,13.50 326.99,17.33 327.41,25.14 327.84,35.79 328.26,47.80 328.69,59.61 329.11,69.73 329.53,76.98 329.96,80.55 330.38,80.13 330.81,75.86 331.23,68.34 331.66,58.50 332.08,47.49 332.51,36.50 332.93,26.72 333.36,19.11 333.78,14.40 334.20,12.98 334.63,14.90 335.05,19.89 335.48,27.40 335.90,36.66 336.33,46.79 336.75,56.86 337.18,65.97 337.60,73.38 338.03,78.50 338.45,80.96 338.88,80.62 339.30,77.59 339.72,72.17 340.15,64.84 340.57,56.21 341.00,46.96 341.42,37.78 341.85,29.34 342.27,22.21 342.70,16.87 343.12,13.62 343.55,12.65 343.97,14.03 344.40,17.71 344.82,23.38 345.24,30.60 345.67,38.86 346.09,47.59 346.52,56.21 346.94,64.18 347.37,71.02 347.79,76.35 348.22,79.88 348.64,81.43 349.07,80.99 349.49,78.60 349.92,74.47 350.34,68.85 350.76,62.09 351.19,54.58 351.61,46.72 352.04,38.94 352.46,31.61 352.89,25.11 353.31,19.73 353.74,15.70 354.16,13.19 354.59,12.27 355.01,12.92 355.44,15.05 355.86,18.51 356.28,23.15 356.71,28.73 357.13,35.02 357.56,41.74 357.98,48.62 358.41,55.39 358.83,61.80 359.26,67.61 359.68,72.61 360.11,76.65 360.53,79.60 360.95,81.38 361.38,80.66 361.80,78.24 362.23,75.83 362.65,73.42 363.08,71.00 363.50,68.59 363.93,66.18 364.35,63.76 364.78,61.35 365.20,58.94 365.63,56.52 366.05,54.11" fill="none" stroke="#2a2aff" stroke-width="0.95" stroke-linejoin="round"/>
<rect x="239" y="62" width="42" height="20" fill="#fff"/>
<line x1="240.6" y1="68.9" x2="251.9" y2="68.9" stroke="#00f" stroke-width="0.9"/>
<line x1="240.6" y1="77.1" x2="251.9" y2="77.1" stroke="#f00" stroke-width="0.9"/>
<text x="253.4" y="71.1" font-size="7.5" font-family="Liberation Sans, Arial, sans-serif" fill="#222">Köhler</text>
<text x="253.4" y="79.9" font-size="7.45" font-family="Liberation Sans, Arial, sans-serif" fill="#222">Annular</text>
<line x1="238.67" y1="10.2" x2="238.67" y2="82.6" stroke="#444" stroke-width="0.6" stroke-dasharray="1.2 0.9"/>
<line x1="281.13" y1="10.2" x2="281.13" y2="82.6" stroke="#444" stroke-width="0.6" stroke-dasharray="1.2 0.9"/>
<rect x="154.4" y="10.2" width="211.7" height="72.4" fill="none" stroke="#555" stroke-width="0.7"/>
<line x1="154.4" y1="82.60" x2="156.5" y2="82.60" stroke="#555" stroke-width="0.6"/><line x1="364" y1="82.60" x2="366.1" y2="82.60" stroke="#555" stroke-width="0.6"/>
<text x="152.6" y="83.40" font-size="6.6" text-anchor="end" font-family="Liberation Sans, Arial, sans-serif" fill="#222">0</text>
<line x1="154.4" y1="69.65" x2="156.5" y2="69.65" stroke="#555" stroke-width="0.6"/><line x1="364" y1="69.65" x2="366.1" y2="69.65" stroke="#555" stroke-width="0.6"/>
<text x="152.6" y="71.75" font-size="6.6" text-anchor="end" font-family="Liberation Sans, Arial, sans-serif" fill="#222">0.2</text>
<line x1="154.4" y1="56.70" x2="156.5" y2="56.70" stroke="#555" stroke-width="0.6"/><line x1="364" y1="56.70" x2="366.1" y2="56.70" stroke="#555" stroke-width="0.6"/>
<text x="152.6" y="58.80" font-size="6.6" text-anchor="end" font-family="Liberation Sans, Arial, sans-serif" fill="#222">0.4</text>
<line x1="154.4" y1="43.75" x2="156.5" y2="43.75" stroke="#555" stroke-width="0.6"/><line x1="364" y1="43.75" x2="366.1" y2="43.75" stroke="#555" stroke-width="0.6"/>
<text x="152.6" y="45.85" font-size="6.6" text-anchor="end" font-family="Liberation Sans, Arial, sans-serif" fill="#222">0.6</text>
<line x1="154.4" y1="30.80" x2="156.5" y2="30.80" stroke="#555" stroke-width="0.6"/><line x1="364" y1="30.80" x2="366.1" y2="30.80" stroke="#555" stroke-width="0.6"/>
<text x="152.6" y="32.90" font-size="6.6" text-anchor="end" font-family="Liberation Sans, Arial, sans-serif" fill="#222">0.8</text>
<line x1="154.4" y1="17.85" x2="156.5" y2="17.85" stroke="#555" stroke-width="0.6"/><line x1="364" y1="17.85" x2="366.1" y2="17.85" stroke="#555" stroke-width="0.6"/>
<text x="152.6" y="19.95" font-size="6.6" text-anchor="end" font-family="Liberation Sans, Arial, sans-serif" fill="#222">1</text>
<line x1="174.98" y1="82.6" x2="174.98" y2="80.5" stroke="#555" stroke-width="0.6"/><line x1="174.98" y1="10.2" x2="174.98" y2="12.3" stroke="#555" stroke-width="0.6"/>
<text x="174.98" y="88" font-size="6.6" text-anchor="middle" font-family="Liberation Sans, Arial, sans-serif" fill="#222">50</text>
<line x1="196.21" y1="82.6" x2="196.21" y2="80.5" stroke="#555" stroke-width="0.6"/><line x1="196.21" y1="10.2" x2="196.21" y2="12.3" stroke="#555" stroke-width="0.6"/>
<text x="196.21" y="88" font-size="6.6" text-anchor="middle" font-family="Liberation Sans, Arial, sans-serif" fill="#222">100</text>
<line x1="217.44" y1="82.6" x2="217.44" y2="80.5" stroke="#555" stroke-width="0.6"/><line x1="217.44" y1="10.2" x2="217.44" y2="12.3" stroke="#555" stroke-width="0.6"/>
<text x="217.44" y="88" font-size="6.6" text-anchor="middle" font-family="Liberation Sans, Arial, sans-serif" fill="#222">150</text>
<line x1="238.67" y1="82.6" x2="238.67" y2="80.5" stroke="#555" stroke-width="0.6"/><line x1="238.67" y1="10.2" x2="238.67" y2="12.3" stroke="#555" stroke-width="0.6"/>
<text x="238.67" y="88" font-size="6.6" text-anchor="middle" font-family="Liberation Sans, Arial, sans-serif" fill="#222">200</text>
<line x1="259.90" y1="82.6" x2="259.90" y2="80.5" stroke="#555" stroke-width="0.6"/><line x1="259.90" y1="10.2" x2="259.90" y2="12.3" stroke="#555" stroke-width="0.6"/>
<text x="259.90" y="88" font-size="6.6" text-anchor="middle" font-family="Liberation Sans, Arial, sans-serif" fill="#222">250</text>
<line x1="281.13" y1="82.6" x2="281.13" y2="80.5" stroke="#555" stroke-width="0.6"/><line x1="281.13" y1="10.2" x2="281.13" y2="12.3" stroke="#555" stroke-width="0.6"/>
<text x="281.13" y="88" font-size="6.6" text-anchor="middle" font-family="Liberation Sans, Arial, sans-serif" fill="#222">300</text>
<line x1="302.36" y1="82.6" x2="302.36" y2="80.5" stroke="#555" stroke-width="0.6"/><line x1="302.36" y1="10.2" x2="302.36" y2="12.3" stroke="#555" stroke-width="0.6"/>
<text x="302.36" y="88" font-size="6.6" text-anchor="middle" font-family="Liberation Sans, Arial, sans-serif" fill="#222">350</text>
<line x1="323.59" y1="82.6" x2="323.59" y2="80.5" stroke="#555" stroke-width="0.6"/><line x1="323.59" y1="10.2" x2="323.59" y2="12.3" stroke="#555" stroke-width="0.6"/>
<text x="323.59" y="88" font-size="6.6" text-anchor="middle" font-family="Liberation Sans, Arial, sans-serif" fill="#222">400</text>
<line x1="344.82" y1="82.6" x2="344.82" y2="80.5" stroke="#555" stroke-width="0.6"/><line x1="344.82" y1="10.2" x2="344.82" y2="12.3" stroke="#555" stroke-width="0.6"/>
<text x="344.82" y="88" font-size="6.6" text-anchor="middle" font-family="Liberation Sans, Arial, sans-serif" fill="#222">450</text>
<line x1="366.05" y1="82.6" x2="366.05" y2="80.5" stroke="#555" stroke-width="0.6"/><line x1="366.05" y1="10.2" x2="366.05" y2="12.3" stroke="#555" stroke-width="0.6"/>
<text x="366.05" y="88" font-size="6.6" text-anchor="middle" font-family="Liberation Sans, Arial, sans-serif" fill="#222">500</text>
<text transform="translate(140.8,45.1) rotate(-90)" font-size="6.6" text-anchor="middle" font-family="Liberation Sans, Arial, sans-serif" fill="#222">Intensity (A.U.)</text>
<line x1="238.67" y1="82.6" x2="153.7" y2="96.3" stroke="#666" stroke-width="0.5" stroke-dasharray="1 0.8"/>
<line x1="281.13" y1="82.6" x2="366" y2="96.3" stroke="#666" stroke-width="0.5" stroke-dasharray="1 0.8"/>
<polyline points="154.00,137.91 156.14,146.32 158.29,132.33 160.43,116.42 162.58,122.58 164.72,141.61 166.86,143.70 169.01,125.89 171.15,117.16 173.30,131.11 175.44,143.97 177.58,134.49 179.73,119.69 181.87,125.04 184.02,140.15 186.16,137.95 188.30,123.40 190.45,123.45 192.59,136.96 194.74,138.03 196.88,125.62 199.02,124.00 201.17,135.81 203.31,137.31 205.46,125.56 207.60,124.76 209.74,136.37 211.89,135.91 214.03,124.52 216.18,126.63 218.32,137.44 220.46,133.30 222.61,123.53 224.75,129.76 226.90,137.78 229.04,129.57 231.18,123.96 233.33,133.58 235.47,136.09 237.62,125.88 239.76,126.78 241.90,136.37 244.05,132.09 246.19,124.29 248.34,131.29 250.48,136.19 252.62,127.50 254.77,126.10 256.91,135.03 259.06,132.81 261.20,125.04 263.34,130.27 265.49,136.01 267.63,128.31 269.78,125.56 271.92,134.68 274.06,133.86 276.21,124.81 278.35,129.24 280.50,136.90 282.64,129.48 284.78,124.36 286.93,133.85 289.07,135.86 291.22,125.48 293.36,126.78 295.50,137.05 297.65,132.75 299.79,123.46 301.94,130.30 304.08,138.16 306.22,129.46 308.37,123.25 310.51,133.28 312.66,137.99 314.80,127.16 316.94,123.70 319.09,135.07 321.23,137.75 323.38,126.12 325.52,123.75 327.66,135.67 329.81,138.74 331.95,126.02 334.10,121.77 336.24,135.08 338.38,141.39 340.53,128.18 342.67,119.05 344.82,131.16 346.96,143.74 349.10,134.37 351.25,118.39 353.39,123.06 355.54,141.44 357.68,143.58 359.82,125.42 361.97,115.75 364.11,129.42 366.26,145.53" fill="none" stroke="#f00" stroke-width="0.9" stroke-linejoin="round"/>
<polyline points="154.00,137.47 156.14,141.11 158.29,134.94 160.43,128.21 162.58,130.89 164.72,138.64 166.86,139.39 169.01,132.33 171.15,128.95 173.30,134.33 175.44,139.15 177.58,135.54 179.73,130.10 181.87,132.07 184.02,137.38 186.16,136.53 188.30,131.59 190.45,131.66 192.59,135.95 194.74,136.18 196.88,132.47 199.02,132.00 201.17,135.35 203.31,135.76 205.46,132.39 207.60,132.13 209.74,135.42 211.89,135.26 214.03,132.00 216.18,132.58 218.32,135.62 220.46,134.42 222.61,131.63 224.75,133.37 226.90,135.62 229.04,133.27 231.18,131.67 233.33,134.36 235.47,135.04 237.62,132.14 239.76,132.37 241.90,135.05 244.05,133.82 246.19,131.61 248.34,133.55 250.48,134.90 252.62,132.44 254.77,132.03 256.91,134.50 259.06,133.85 261.20,131.67 263.34,133.13 265.49,134.75 267.63,132.63 269.78,131.89 271.92,134.46 274.06,134.25 276.21,131.74 278.35,133.01 280.50,135.18 282.64,133.12 284.78,131.70 286.93,134.40 289.07,134.99 291.22,132.08 293.36,132.47 295.50,135.40 297.65,134.21 299.79,131.60 301.94,133.56 304.08,135.81 306.22,133.37 308.37,131.63 310.51,134.50 312.66,135.86 314.80,132.80 316.94,131.84 319.09,135.10 321.23,135.89 323.38,132.60 325.52,131.94 327.66,135.42 329.81,136.44 331.95,132.51 334.10,131.09 336.24,135.51 338.38,137.75 340.53,133.19 342.67,129.90 344.82,134.29 346.96,139.01 349.10,135.55 351.25,129.45 353.39,131.22 355.54,138.45 357.68,139.38 359.82,132.09 361.97,128.02 364.11,133.69 366.26,140.69" fill="none" stroke="#00f" stroke-width="0.9" stroke-linejoin="round"/>
<rect x="153.7" y="96.3" width="212.3" height="70.1" fill="none" stroke="#555" stroke-width="0.7"/>
<line x1="153.9" y1="166.40" x2="156" y2="166.40" stroke="#555" stroke-width="0.6"/><line x1="363.9" y1="166.40" x2="366" y2="166.40" stroke="#555" stroke-width="0.6"/>
<text x="152.2" y="168.50" font-size="6.6" text-anchor="end" font-family="Liberation Sans, Arial, sans-serif" fill="#222">0</text>
<line x1="153.9" y1="154.20" x2="156" y2="154.20" stroke="#555" stroke-width="0.6"/><line x1="363.9" y1="154.20" x2="366" y2="154.20" stroke="#555" stroke-width="0.6"/>
<text x="152.2" y="156.30" font-size="6.6" text-anchor="end" font-family="Liberation Sans, Arial, sans-serif" fill="#222">0.2</text>
<line x1="153.9" y1="142.00" x2="156" y2="142.00" stroke="#555" stroke-width="0.6"/><line x1="363.9" y1="142.00" x2="366" y2="142.00" stroke="#555" stroke-width="0.6"/>
<text x="152.2" y="144.10" font-size="6.6" text-anchor="end" font-family="Liberation Sans, Arial, sans-serif" fill="#222">0.4</text>
<line x1="153.9" y1="129.80" x2="156" y2="129.80" stroke="#555" stroke-width="0.6"/><line x1="363.9" y1="129.80" x2="366" y2="129.80" stroke="#555" stroke-width="0.6"/>
<text x="152.2" y="131.90" font-size="6.6" text-anchor="end" font-family="Liberation Sans, Arial, sans-serif" fill="#222">0.6</text>
<line x1="153.9" y1="117.60" x2="156" y2="117.60" stroke="#555" stroke-width="0.6"/><line x1="363.9" y1="117.60" x2="366" y2="117.60" stroke="#555" stroke-width="0.6"/>
<text x="152.2" y="119.70" font-size="6.6" text-anchor="end" font-family="Liberation Sans, Arial, sans-serif" fill="#222">0.8</text>
<line x1="153.9" y1="105.40" x2="156" y2="105.40" stroke="#555" stroke-width="0.6"/><line x1="363.9" y1="105.40" x2="366" y2="105.40" stroke="#555" stroke-width="0.6"/>
<text x="152.2" y="107.50" font-size="6.6" text-anchor="end" font-family="Liberation Sans, Arial, sans-serif" fill="#222">1</text>
<line x1="173.30" y1="166.4" x2="173.30" y2="164.3" stroke="#555" stroke-width="0.6"/><line x1="173.30" y1="96.3" x2="173.30" y2="98.4" stroke="#555" stroke-width="0.6"/>
<text x="173.30" y="171.9" font-size="6.6" text-anchor="middle" font-family="Liberation Sans, Arial, sans-serif" fill="#222">210</text>
<line x1="194.74" y1="166.4" x2="194.74" y2="164.3" stroke="#555" stroke-width="0.6"/><line x1="194.74" y1="96.3" x2="194.74" y2="98.4" stroke="#555" stroke-width="0.6"/>
<text x="194.74" y="171.9" font-size="6.6" text-anchor="middle" font-family="Liberation Sans, Arial, sans-serif" fill="#222">220</text>
<line x1="216.18" y1="166.4" x2="216.18" y2="164.3" stroke="#555" stroke-width="0.6"/><line x1="216.18" y1="96.3" x2="216.18" y2="98.4" stroke="#555" stroke-width="0.6"/>
<text x="216.18" y="171.9" font-size="6.6" text-anchor="middle" font-family="Liberation Sans, Arial, sans-serif" fill="#222">230</text>
<line x1="237.62" y1="166.4" x2="237.62" y2="164.3" stroke="#555" stroke-width="0.6"/><line x1="237.62" y1="96.3" x2="237.62" y2="98.4" stroke="#555" stroke-width="0.6"/>
<text x="237.62" y="171.9" font-size="6.6" text-anchor="middle" font-family="Liberation Sans, Arial, sans-serif" fill="#222">240</text>
<line x1="259.06" y1="166.4" x2="259.06" y2="164.3" stroke="#555" stroke-width="0.6"/><line x1="259.06" y1="96.3" x2="259.06" y2="98.4" stroke="#555" stroke-width="0.6"/>
<text x="259.06" y="171.9" font-size="6.6" text-anchor="middle" font-family="Liberation Sans, Arial, sans-serif" fill="#222">250</text>
<line x1="280.50" y1="166.4" x2="280.50" y2="164.3" stroke="#555" stroke-width="0.6"/><line x1="280.50" y1="96.3" x2="280.50" y2="98.4" stroke="#555" stroke-width="0.6"/>
<text x="280.50" y="171.9" font-size="6.6" text-anchor="middle" font-family="Liberation Sans, Arial, sans-serif" fill="#222">260</text>
<line x1="301.94" y1="166.4" x2="301.94" y2="164.3" stroke="#555" stroke-width="0.6"/><line x1="301.94" y1="96.3" x2="301.94" y2="98.4" stroke="#555" stroke-width="0.6"/>
<text x="301.94" y="171.9" font-size="6.6" text-anchor="middle" font-family="Liberation Sans, Arial, sans-serif" fill="#222">270</text>
<line x1="323.38" y1="166.4" x2="323.38" y2="164.3" stroke="#555" stroke-width="0.6"/><line x1="323.38" y1="96.3" x2="323.38" y2="98.4" stroke="#555" stroke-width="0.6"/>
<text x="323.38" y="171.9" font-size="6.6" text-anchor="middle" font-family="Liberation Sans, Arial, sans-serif" fill="#222">280</text>
<line x1="344.82" y1="166.4" x2="344.82" y2="164.3" stroke="#555" stroke-width="0.6"/><line x1="344.82" y1="96.3" x2="344.82" y2="98.4" stroke="#555" stroke-width="0.6"/>
<text x="344.82" y="171.9" font-size="6.6" text-anchor="middle" font-family="Liberation Sans, Arial, sans-serif" fill="#222">290</text>
<line x1="366.26" y1="166.4" x2="366.26" y2="164.3" stroke="#555" stroke-width="0.6"/><line x1="366.26" y1="96.3" x2="366.26" y2="98.4" stroke="#555" stroke-width="0.6"/>
<text x="366.26" y="171.9" font-size="6.6" text-anchor="middle" font-family="Liberation Sans, Arial, sans-serif" fill="#222">300</text>
<text transform="translate(140.6,133.8) rotate(-90)" font-size="6.6" text-anchor="middle" font-family="Liberation Sans, Arial, sans-serif" fill="#222">Intensity (A.U.)</text>
<text x="230" y="179.5" font-size="6.4" font-family="Liberation Sans, Arial, sans-serif" fill="#222">Position <tspan font-family="Liberation Serif, serif" font-style="italic">y</tspan> (pixel)</text>
</g>
<g transform="translate(0,361.2)">
<text x="20.5" y="12.2" font-size="8.4" font-family="Liberation Sans, Arial, sans-serif" fill="#2a2a2a">(c)</text>
<text x="88.6" y="14.7" font-size="6.5" text-anchor="middle" font-family="Liberation Sans, Arial, sans-serif" fill="#222">Annular oblique illumination</text>
<text x="65.9" y="101.5" font-size="6.3" font-family="Liberation Sans, Arial, sans-serif" fill="#222">Köhler illumination</text>
<text y="101.8" font-size="8.5" font-family="Liberation Serif, Times New Roman, serif" fill="#222" style="stroke:#222;stroke-width:0.3px"><tspan x="5.3" font-style="italic">A</tspan><tspan x="12.8">=</tspan><tspan x="19.7">0.8</tspan></text>
<rect x="44.5" y="17.9" width="4.1" height="75.3" fill="url(#cb)" stroke="#8a8a8a" stroke-width="0.45"/>
<text x="43.7" y="22.1" font-size="5.8" text-anchor="end" font-family="Liberation Sans, Arial, sans-serif" fill="#222">1</text>
<text x="43.5" y="93.6" font-size="5.8" text-anchor="end" font-family="Liberation Sans, Arial, sans-serif" fill="#222">0</text>
<text transform="translate(39.5,52.5) rotate(-90)" font-size="6.6" text-anchor="middle" font-family="Liberation Sans, Arial, sans-serif" fill="#222">Intensity (A.U.)</text>
<rect x="44.5" y="104.2" width="4.1" height="75.4" fill="url(#cb)" stroke="#8a8a8a" stroke-width="0.45"/>
<text x="43.7" y="108.4" font-size="5.8" text-anchor="end" font-family="Liberation Sans, Arial, sans-serif" fill="#222">1</text>
<text x="43.5" y="180.0" font-size="5.8" text-anchor="end" font-family="Liberation Sans, Arial, sans-serif" fill="#222">0</text>
<text transform="translate(39.5,138.9) rotate(-90)" font-size="6.6" text-anchor="middle" font-family="Liberation Sans, Arial, sans-serif" fill="#222">Intensity (A.U.)</text>
<rect x="75.4" y="17.4" width="1.5" height="75.8" fill="#c0303c"/>
<rect x="74.95" y="103.9" width="1.4" height="75.9" fill="#2a2ed2"/>
<rect x="239" y="61.5" width="42" height="20.5" fill="#fff"/>
<path d="M154.17 50.22L154.60 54.27L155.02 58.32L155.45 62.37L155.87 66.41L156.30 68.74L156.72 71.07L157.15 73.41L157.57 75.74L158.00 78.07L158.42 76.98M164.37 30.83L164.79 26.82L165.21 25.24L165.64 24.03L166.06 23.17L166.49 22.74L166.91 22.87L167.34 23.62L167.76 25.02L168.19 27.07L168.61 32.54M175.83 33.89L176.25 27.01L176.68 23.17L177.10 20.43L177.53 19.09L177.95 19.34L178.38 21.26L178.80 24.81L179.23 30.67M185.59 26.74L186.02 20.62L186.44 16.99L186.87 16.40L187.29 19.08L187.72 24.96M198.33 73.20L198.76 62.66L199.18 49.29L199.61 35.37L200.03 23.41L200.46 15.75L200.88 14.00L201.31 18.73L201.73 29.21L202.15 43.48L202.58 58.65L203.00 71.42L203.43 78.75L203.85 78.67L204.28 70.94L204.70 57.10L205.13 40.26L205.55 24.47L205.98 13.68L206.40 10.86L206.82 17.12L207.25 31.02L207.67 48.91L208.10 65.77L208.52 76.65L208.95 78.11L209.37 69.41L209.80 52.95L210.22 33.77L210.65 18.05L211.07 11.31L211.50 16.04L211.92 30.69L212.34 50.21L212.77 67.55L213.19 76.20L213.62 72.72L214.04 58.54L214.47 39.17L214.89 22.06L215.32 14.01L215.74 18.49L216.17 33.87L216.59 53.77L217.02 69.50L217.44 73.88L217.86 64.66L218.29 45.93L218.71 26.55L219.14 16.10L219.56 20.05L219.99 36.64L220.41 57.34L220.84 70.99L221.26 69.91L221.69 54.43L222.11 33.30L222.54 18.99L222.96 20.21L223.38 36.70L223.81 58.43L224.23 71.30L224.66 66.36L225.08 46.44L225.51 25.10L225.93 17.88L226.36 30.39L226.78 53.47L227.21 69.61L227.63 66.14L228.06 45.66L228.48 24.79L228.90 21.22L229.33 37.92L229.75 60.11L230.18 68.09L230.60 54.92L231.03 33.19L231.45 23.63L231.88 35.16L232.30 56.41L232.73 65.84L233.15 53.64L233.57 32.81L234.00 26.04L234.42 40.89L234.85 60.56L235.27 62.32L235.70 44.11L236.12 27.99L236.55 33.88L236.97 54.38L237.40 63.19L237.82 48.87L238.25 30.67L238.67 33.39L239.09 53.30L239.52 62.25L239.94 47.35L240.37 30.58L240.79 37.14L241.22 57.05L241.64 59.28L242.07 40.76L242.49 31.63L242.92 46.35L243.34 60.05L243.77 50.08L244.19 34.32L244.61 40.08L245.04 56.47L245.46 54.20L245.89 38.36L246.31 38.42L246.74 53.47L247.16 54.79L247.59 40.86L248.01 39.07L248.44 52.54L248.86 54.30L249.28 41.07L249.71 40.24L250.13 53.41L250.56 52.95L250.98 40.20L251.41 42.64L251.83 54.82L252.26 50.25L252.68 39.41L253.11 46.43L253.53 55.40L253.96 46.35L254.38 40.22L254.80 50.91L255.23 53.73L255.65 42.57L256.08 43.63L256.50 54.19L256.93 49.58L257.35 41.16L257.78 48.83L258.20 54.19L258.63 44.87L259.05 43.44L259.48 53.07L259.90 50.76L260.32 42.56L260.75 48.08L261.17 54.15L261.60 45.85L262.02 42.83L262.45 52.59L262.87 51.65L263.30 41.77L263.72 46.51L264.15 54.80L264.57 46.63L265.00 40.95L265.42 51.30L265.84 53.45L266.27 41.94L266.69 43.31L267.12 54.62L267.54 49.79L267.97 39.39L268.39 46.93L268.82 55.65L269.24 45.87L269.67 38.83L270.09 50.02L270.51 55.26L270.94 42.99L271.36 39.01L271.79 51.80L272.21 54.78L272.64 41.53L273.06 38.75L273.49 52.21L273.91 55.53L274.34 41.27L274.76 36.57L275.19 51.13L275.61 57.89L276.03 43.48L276.46 33.63L276.88 46.57L277.31 59.89L277.73 49.84L278.16 32.92L278.58 37.81L279.01 56.99L279.43 59.11L279.86 40.15L280.28 29.94L280.71 44.27L281.13 61.37L281.55 55.73L281.98 35.54L282.40 29.70L282.83 46.34L283.25 62.53L283.68 56.27L284.10 35.77L284.53 27.62L284.95 42.21L285.38 61.28L285.80 61.45L286.23 42.48L286.65 26.58L287.07 31.96L287.50 52.55L287.92 65.61L288.35 57.05L288.77 35.88L289.20 23.93L289.62 33.06L290.05 54.59L290.47 67.78L290.90 59.84L291.32 37.77L291.75 21.42L292.17 25.41L292.59 46.51L293.02 66.59L293.44 69.07L293.87 52.10L294.29 29.17L294.72 17.91L295.14 26.59L295.57 48.60L295.99 67.70L296.42 70.69L296.84 56.06L297.26 34.03L297.69 19.04L298.11 20.32L298.54 36.49L298.96 57.61L299.39 71.12L299.81 69.33L300.24 53.52L300.66 32.68L301.09 18.14L301.51 17.43L301.94 30.67L302.36 50.90L302.78 68.04L303.21 73.91L303.63 65.97L304.06 48.13L304.48 28.58L304.91 15.92L305.33 15.43L305.76 27.06L306.18 45.84L306.61 64.22L307.03 75.04L307.46 74.32L307.88 62.61L308.30 44.31L308.73 25.98L309.15 13.93L309.58 12.14L310.00 21.05L310.43 37.69L310.85 56.46L311.28 71.53L311.70 78.51L312.13 75.58L312.55 63.87L312.98 46.93L313.40 29.53L313.82 16.38L314.25 10.80L314.67 14.01L315.10 25.01L315.52 40.81L315.95 57.51L316.37 71.15L316.80 78.69L317.22 78.64L317.65 71.26L318.07 58.46L318.49 43.30L318.92 29.03L319.34 18.54L319.77 13.77L320.19 15.44L320.62 23.02L321.04 34.90L321.47 48.80L321.89 62.21L322.32 72.86M333.36 21.72L333.78 17.42L334.20 16.26L334.63 18.14L335.05 22.70L335.48 29.52M341.85 31.28L342.27 25.30L342.70 21.69L343.12 19.60L343.55 19.08L343.97 20.11L344.40 22.58L344.82 26.21L345.24 32.44M352.46 33.30L352.89 27.33L353.31 25.24L353.74 23.78L354.16 22.98L354.59 22.80L355.01 23.18L355.44 23.95L355.86 25.13L356.28 26.69L356.71 30.44M361.38 81.97L361.80 76.12L362.23 73.73L362.65 71.33L363.08 68.94L363.50 66.54L363.93 64.15L364.35 61.75L364.78 59.35L365.20 56.96L365.63 54.56L366.05 52.17" fill="none" stroke="#f00" stroke-width="0.6" stroke-linejoin="round"/>
<polyline points="154.17,53.46 154.60,57.51 155.02,61.56 155.45,65.60 155.87,69.65 156.30,71.59 156.72,73.53 157.15,75.48 157.57,77.42 158.00,79.36 158.42,76.98 158.85,79.69 159.27,81.38 159.69,81.97 160.12,81.41 160.54,79.69 160.97,76.86 161.39,72.99 161.82,68.19 162.24,62.63 162.67,56.49 163.09,49.99 163.52,43.37 163.94,36.90 164.37,30.83 164.79,25.41 165.21,20.89 165.64,17.46 166.06,15.31 166.49,14.55 166.91,15.30 167.34,17.59 167.76,21.33 168.19,26.38 168.61,32.54 169.04,39.51 169.46,46.97 169.88,54.54 170.31,61.84 170.73,68.47 171.16,74.05 171.58,78.26 172.01,80.82 172.43,81.55 172.86,80.36 173.28,77.27 173.71,72.42 174.13,66.07 174.56,58.57 174.98,50.36 175.40,41.95 175.83,33.89 176.25,26.72 176.68,20.95 177.10,17.02 177.53,15.24 177.95,15.80 178.38,18.68 178.80,23.75 179.23,30.67 179.65,38.98 180.08,48.07 180.50,57.25 180.92,65.79 181.35,72.97 181.77,78.18 182.20,80.90 182.62,80.86 183.05,77.97 183.47,72.41 183.90,64.62 184.32,55.27 184.75,45.19 185.17,35.32 185.59,26.66 186.02,20.09 186.44,16.35 186.87,15.89 187.29,18.82 187.72,24.91 188.14,33.61 188.57,44.01 188.99,54.99 189.42,65.31 189.84,73.73 190.27,79.20 190.69,80.97 191.11,78.70 191.54,72.57 191.96,63.27 192.39,51.93 192.81,40.02 193.24,29.17 193.66,20.93 194.09,16.56 194.51,16.81 194.94,21.75 195.36,30.65 195.79,42.28 196.21,54.89 196.63,66.56 197.06,75.38 197.48,79.85 197.91,79.11 198.33,73.17 198.76,62.93 199.18,50.09 199.61,36.92 200.03,25.84 200.46,19.00 200.88,17.84 201.31,22.71 201.73,32.80 202.15,46.16 202.58,60.08 203.00,71.58 203.43,78.09 203.85,78.00 204.28,71.19 204.70,59.06 205.13,44.38 205.55,30.67 205.98,21.39 206.40,19.18 206.82,24.86 207.25,36.91 207.67,52.08 208.10,66.11 208.52,74.95 208.95,75.94 209.37,68.72 209.80,55.45 210.22,40.30 210.65,28.17 211.07,23.14 211.50,26.98 211.92,38.42 212.34,53.45 212.77,66.67 213.19,73.17 213.62,70.48 214.04,59.82 214.47,45.43 214.89,32.88 215.32,27.13 215.74,30.57 216.17,41.91 216.59,56.40 217.02,67.74 217.44,70.84 217.86,64.24 218.29,51.00 218.71,37.45 219.14,30.31 219.56,33.28 219.99,44.89 220.41,59.06 220.84,68.23 221.26,67.40 221.69,57.11 222.11,43.33 222.54,34.25 222.96,35.25 223.38,45.90 223.81,59.69 224.23,67.72 224.66,64.60 225.08,52.34 225.51,39.41 225.93,35.24 226.36,42.94 226.78,56.69 227.21,66.07 227.63,63.90 228.06,52.03 228.48,40.20 228.90,38.32 229.33,47.70 229.75,59.88 230.18,64.09 230.60,56.89 231.03,45.39 231.45,40.53 231.88,46.56 232.30,57.33 232.73,61.95 233.15,55.82 233.57,45.68 234.00,42.54 234.42,49.64 234.85,58.77 235.27,59.49 235.70,51.16 236.12,43.96 236.55,46.66 236.97,55.65 237.40,59.57 237.82,53.54 238.25,45.88 238.67,47.26 239.09,55.94 239.52,59.87 239.94,53.75 240.37,46.96 240.79,49.89 241.22,58.25 241.64,59.11 242.07,51.61 242.49,48.02 242.92,53.74 243.34,58.85 243.77,55.02 244.19,49.24 244.61,51.33 245.04,56.97 245.46,56.07 245.89,50.83 246.31,50.90 246.74,55.46 247.16,55.70 247.59,51.76 248.01,51.27 248.44,54.82 248.86,55.25 249.28,51.67 249.71,51.41 250.13,54.89 250.56,54.73 250.98,51.26 251.41,51.88 251.83,55.11 252.26,53.84 252.68,50.87 253.11,52.72 253.53,55.11 253.96,52.62 254.38,50.91 254.80,53.77 255.23,54.49 255.65,51.42 256.08,51.66 256.50,54.50 256.93,53.20 257.35,50.85 257.78,52.91 258.20,54.34 258.63,51.73 259.05,51.30 259.48,53.91 259.90,53.23 260.32,50.92 260.75,52.47 261.17,54.19 261.60,51.94 262.02,51.15 262.45,53.88 262.87,53.66 263.30,50.99 263.72,52.33 264.15,54.64 264.57,52.45 265.00,50.95 265.42,53.81 265.84,54.44 266.27,51.35 266.69,51.77 267.12,54.87 267.54,53.61 267.97,50.84 268.39,52.92 268.82,55.31 269.24,52.72 269.67,50.87 270.09,53.92 270.51,55.37 270.94,52.12 271.36,51.10 271.79,54.56 272.21,55.40 272.64,51.90 273.06,51.20 273.49,54.89 273.91,55.98 274.34,51.80 274.76,50.30 275.19,54.99 275.61,57.37 276.03,52.52 276.46,49.03 276.88,53.69 277.31,58.70 277.73,55.04 278.16,48.56 278.58,50.44 279.01,58.12 279.43,59.09 279.86,51.25 280.28,46.83 280.71,52.58 281.13,59.58 281.55,57.06 281.98,48.30 282.40,45.59 282.83,52.55 283.25,59.37 283.68,56.50 284.10,47.52 284.53,43.85 284.95,50.31 285.38,58.97 285.80,59.13 286.23,50.39 286.65,42.87 287.07,45.32 287.50,55.24 287.92,61.75 288.35,57.61 288.77,46.96 289.20,40.77 289.62,45.38 290.05,56.67 290.47,63.81 290.90,59.67 291.32,47.65 291.75,38.51 292.17,40.62 292.59,52.50 293.02,64.07 293.44,65.66 293.87,55.85 294.29,42.29 294.72,35.39 295.14,40.42 295.57,53.70 295.99,65.40 296.42,67.30 296.84,58.21 297.26,44.29 297.69,34.63 298.11,35.24 298.54,45.49 298.96,59.19 299.39,68.14 299.81,67.05 300.24,56.48 300.66,42.26 301.09,32.10 301.51,31.37 301.94,40.42 302.36,54.53 302.78,66.62 303.21,70.83 303.63,65.19 304.06,52.36 304.48,38.14 304.91,28.80 305.33,28.27 305.76,36.66 306.18,50.42 306.61,64.05 307.03,72.18 307.46,71.71 307.88,62.91 308.30,48.98 308.73,34.88 309.15,25.46 309.58,23.90 310.00,30.64 310.43,43.47 310.85,58.23 311.28,70.34 311.70,76.14 312.13,73.95 312.55,64.48 312.98,50.44 313.40,35.76 313.82,24.40 314.25,19.32 314.67,21.79 315.10,31.20 315.52,44.91 315.95,59.45 316.37,71.39 316.80,78.02 317.22,77.98 317.65,71.45 318.07,59.99 318.49,46.16 318.92,32.87 319.34,22.82 319.77,17.92 320.19,18.99 320.62,25.70 321.04,36.64 321.47,49.71 321.89,62.53 322.32,72.84 322.74,78.93 323.17,79.87 323.59,75.64 324.01,67.04 324.44,55.60 324.86,43.13 325.29,31.52 325.71,22.44 326.14,17.14 326.56,16.33 326.99,20.00 327.41,27.49 327.84,37.70 328.26,49.23 328.69,60.56 329.11,70.28 329.53,77.24 329.96,80.67 330.38,80.26 330.81,76.16 331.23,68.94 331.66,59.48 332.08,48.88 332.51,38.32 332.93,28.91 333.36,21.58 333.78,17.05 334.20,15.67 334.63,17.51 335.05,22.30 335.48,29.52 335.90,38.42 336.33,48.17 336.75,57.85 337.18,66.62 337.60,73.76 338.03,78.68 338.45,81.05 338.88,80.72 339.30,77.80 339.72,72.58 340.15,65.52 340.57,57.20 341.00,48.28 341.42,39.42 341.85,31.28 342.27,24.40 342.70,19.23 343.12,16.10 343.55,15.15 343.97,16.47 344.40,20.01 344.82,25.47 345.24,32.44 345.67,40.40 346.09,48.82 346.52,57.14 346.94,64.83 347.37,71.44 347.79,76.58 348.22,79.99 348.64,81.49 349.07,81.06 349.49,78.76 349.92,74.76 350.34,69.33 350.76,62.79 351.19,55.52 351.61,47.92 352.04,40.39 352.46,33.30 352.89,27.00 353.31,21.79 353.74,17.88 354.16,15.44 354.59,14.54 355.01,15.17 355.44,17.21 355.86,20.56 356.28,25.04 356.71,30.44 357.13,36.52 357.56,43.03 357.98,49.69 358.41,56.25 358.83,62.45 359.26,68.07 359.68,72.92 360.11,76.84 360.53,79.70 360.95,81.42 361.38,81.97 361.80,78.71 362.23,76.71 362.65,74.70 363.08,72.69 363.50,70.69 363.93,68.68 364.35,66.67 364.78,64.66 365.20,62.66 365.63,60.65 366.05,58.64" fill="none" stroke="#2a2aff" stroke-width="0.95" stroke-linejoin="round"/>
<rect x="239" y="62" width="42" height="20" fill="#fff"/>
<line x1="240.6" y1="68.9" x2="251.9" y2="68.9" stroke="#00f" stroke-width="0.9"/>
<line x1="240.6" y1="77.1" x2="251.9" y2="77.1" stroke="#f00" stroke-width="0.9"/>
<text x="253.4" y="71.1" font-size="7.5" font-family="Liberation Sans, Arial, sans-serif" fill="#222">Köhler</text>
<text x="253.4" y="79.9" font-size="7.45" font-family="Liberation Sans, Arial, sans-serif" fill="#222">Annular</text>
<line x1="238.67" y1="10.2" x2="238.67" y2="82.6" stroke="#444" stroke-width="0.6" stroke-dasharray="1.2 0.9"/>
<line x1="281.13" y1="10.2" x2="281.13" y2="82.6" stroke="#444" stroke-width="0.6" stroke-dasharray="1.2 0.9"/>
<rect x="154.4" y="10.2" width="211.7" height="72.4" fill="none" stroke="#555" stroke-width="0.7"/>
<line x1="154.4" y1="82.60" x2="156.5" y2="82.60" stroke="#555" stroke-width="0.6"/><line x1="364" y1="82.60" x2="366.1" y2="82.60" stroke="#555" stroke-width="0.6"/>
<text x="152.6" y="83.40" font-size="6.6" text-anchor="end" font-family="Liberation Sans, Arial, sans-serif" fill="#222">0</text>
<line x1="154.4" y1="69.65" x2="156.5" y2="69.65" stroke="#555" stroke-width="0.6"/><line x1="364" y1="69.65" x2="366.1" y2="69.65" stroke="#555" stroke-width="0.6"/>
<text x="152.6" y="71.75" font-size="6.6" text-anchor="end" font-family="Liberation Sans, Arial, sans-serif" fill="#222">0.2</text>
<line x1="154.4" y1="56.70" x2="156.5" y2="56.70" stroke="#555" stroke-width="0.6"/><line x1="364" y1="56.70" x2="366.1" y2="56.70" stroke="#555" stroke-width="0.6"/>
<text x="152.6" y="58.80" font-size="6.6" text-anchor="end" font-family="Liberation Sans, Arial, sans-serif" fill="#222">0.4</text>
<line x1="154.4" y1="43.75" x2="156.5" y2="43.75" stroke="#555" stroke-width="0.6"/><line x1="364" y1="43.75" x2="366.1" y2="43.75" stroke="#555" stroke-width="0.6"/>
<text x="152.6" y="45.85" font-size="6.6" text-anchor="end" font-family="Liberation Sans, Arial, sans-serif" fill="#222">0.6</text>
<line x1="154.4" y1="30.80" x2="156.5" y2="30.80" stroke="#555" stroke-width="0.6"/><line x1="364" y1="30.80" x2="366.1" y2="30.80" stroke="#555" stroke-width="0.6"/>
<text x="152.6" y="32.90" font-size="6.6" text-anchor="end" font-family="Liberation Sans, Arial, sans-serif" fill="#222">0.8</text>
<line x1="154.4" y1="17.85" x2="156.5" y2="17.85" stroke="#555" stroke-width="0.6"/><line x1="364" y1="17.85" x2="366.1" y2="17.85" stroke="#555" stroke-width="0.6"/>
<text x="152.6" y="19.95" font-size="6.6" text-anchor="end" font-family="Liberation Sans, Arial, sans-serif" fill="#222">1</text>
<line x1="174.98" y1="82.6" x2="174.98" y2="80.5" stroke="#555" stroke-width="0.6"/><line x1="174.98" y1="10.2" x2="174.98" y2="12.3" stroke="#555" stroke-width="0.6"/>
<text x="174.98" y="88" font-size="6.6" text-anchor="middle" font-family="Liberation Sans, Arial, sans-serif" fill="#222">50</text>
<line x1="196.21" y1="82.6" x2="196.21" y2="80.5" stroke="#555" stroke-width="0.6"/><line x1="196.21" y1="10.2" x2="196.21" y2="12.3" stroke="#555" stroke-width="0.6"/>
<text x="196.21" y="88" font-size="6.6" text-anchor="middle" font-family="Liberation Sans, Arial, sans-serif" fill="#222">100</text>
<line x1="217.44" y1="82.6" x2="217.44" y2="80.5" stroke="#555" stroke-width="0.6"/><line x1="217.44" y1="10.2" x2="217.44" y2="12.3" stroke="#555" stroke-width="0.6"/>
<text x="217.44" y="88" font-size="6.6" text-anchor="middle" font-family="Liberation Sans, Arial, sans-serif" fill="#222">150</text>
<line x1="238.67" y1="82.6" x2="238.67" y2="80.5" stroke="#555" stroke-width="0.6"/><line x1="238.67" y1="10.2" x2="238.67" y2="12.3" stroke="#555" stroke-width="0.6"/>
<text x="238.67" y="88" font-size="6.6" text-anchor="middle" font-family="Liberation Sans, Arial, sans-serif" fill="#222">200</text>
<line x1="259.90" y1="82.6" x2="259.90" y2="80.5" stroke="#555" stroke-width="0.6"/><line x1="259.90" y1="10.2" x2="259.90" y2="12.3" stroke="#555" stroke-width="0.6"/>
<text x="259.90" y="88" font-size="6.6" text-anchor="middle" font-family="Liberation Sans, Arial, sans-serif" fill="#222">250</text>
<line x1="281.13" y1="82.6" x2="281.13" y2="80.5" stroke="#555" stroke-width="0.6"/><line x1="281.13" y1="10.2" x2="281.13" y2="12.3" stroke="#555" stroke-width="0.6"/>
<text x="281.13" y="88" font-size="6.6" text-anchor="middle" font-family="Liberation Sans, Arial, sans-serif" fill="#222">300</text>
<line x1="302.36" y1="82.6" x2="302.36" y2="80.5" stroke="#555" stroke-width="0.6"/><line x1="302.36" y1="10.2" x2="302.36" y2="12.3" stroke="#555" stroke-width="0.6"/>
<text x="302.36" y="88" font-size="6.6" text-anchor="middle" font-family="Liberation Sans, Arial, sans-serif" fill="#222">350</text>
<line x1="323.59" y1="82.6" x2="323.59" y2="80.5" stroke="#555" stroke-width="0.6"/><line x1="323.59" y1="10.2" x2="323.59" y2="12.3" stroke="#555" stroke-width="0.6"/>
<text x="323.59" y="88" font-size="6.6" text-anchor="middle" font-family="Liberation Sans, Arial, sans-serif" fill="#222">400</text>
<line x1="344.82" y1="82.6" x2="344.82" y2="80.5" stroke="#555" stroke-width="0.6"/><line x1="344.82" y1="10.2" x2="344.82" y2="12.3" stroke="#555" stroke-width="0.6"/>
<text x="344.82" y="88" font-size="6.6" text-anchor="middle" font-family="Liberation Sans, Arial, sans-serif" fill="#222">450</text>
<line x1="366.05" y1="82.6" x2="366.05" y2="80.5" stroke="#555" stroke-width="0.6"/><line x1="366.05" y1="10.2" x2="366.05" y2="12.3" stroke="#555" stroke-width="0.6"/>
<text x="366.05" y="88" font-size="6.6" text-anchor="middle" font-family="Liberation Sans, Arial, sans-serif" fill="#222">500</text>
<text transform="translate(140.8,45.1) rotate(-90)" font-size="6.6" text-anchor="middle" font-family="Liberation Sans, Arial, sans-serif" fill="#222">Intensity (A.U.)</text>
<line x1="238.67" y1="82.6" x2="153.7" y2="96.3" stroke="#666" stroke-width="0.5" stroke-dasharray="1 0.8"/>
<line x1="281.13" y1="82.6" x2="366" y2="96.3" stroke="#666" stroke-width="0.5" stroke-dasharray="1 0.8"/>
<polyline points="154.00,138.80 156.14,147.23 158.29,133.19 160.43,117.39 162.58,123.58 164.72,142.33 166.86,144.43 169.01,126.98 171.15,118.38 173.30,132.25 175.44,145.15 177.58,135.76 179.73,120.91 181.87,126.34 184.02,141.78 186.16,139.64 188.30,124.72 190.45,124.78 192.59,138.95 194.74,140.20 196.88,127.08 199.02,125.39 201.17,138.09 203.31,139.74 205.46,127.28 207.60,126.49 209.74,138.90 211.89,138.46 214.03,126.46 216.18,128.76 218.32,140.23 220.46,135.92 222.61,125.71 224.75,132.32 226.90,140.77 229.04,132.25 231.18,126.47 233.33,136.55 235.47,139.20 237.62,128.69 239.76,129.69 241.90,139.64 244.05,135.29 246.19,127.36 248.34,134.59 250.48,139.63 252.62,130.85 254.77,129.51 256.91,138.58 259.06,136.40 261.20,128.68 263.34,133.88 265.49,139.60 267.63,131.78 269.78,128.93 271.92,138.12 274.06,137.24 276.21,127.93 278.35,132.40 280.50,140.21 282.64,132.51 284.78,127.16 286.93,136.92 289.07,138.94 291.22,128.09 293.36,129.38 295.50,140.04 297.65,135.49 299.79,125.69 301.94,132.80 304.08,141.01 306.22,131.79 308.37,125.16 310.51,135.71 312.66,140.65 314.80,129.08 316.94,125.34 319.09,137.38 321.23,140.19 323.38,127.71 325.52,125.09 327.66,137.77 329.81,140.90 331.95,127.46 334.10,123.03 336.24,136.75 338.38,143.12 340.53,129.55 342.67,120.27 344.82,132.46 346.96,145.00 349.10,135.54 351.25,119.60 353.39,124.20 355.54,142.27 357.68,144.27 359.82,126.41 361.97,116.79 364.11,130.29 366.26,146.40" fill="none" stroke="#f00" stroke-width="0.9" stroke-linejoin="round"/>
<polyline points="154.00,141.28 156.14,144.99 158.29,139.22 160.43,132.82 162.58,135.59 164.72,143.46 166.86,144.27 169.01,137.21 171.15,133.83 173.30,139.21 175.44,144.03 177.58,140.42 179.73,134.98 181.87,136.95 184.02,142.26 186.16,141.41 188.30,136.47 190.45,136.54 192.59,140.83 194.74,141.06 196.88,137.35 199.02,136.88 201.17,140.23 203.31,140.64 205.46,137.27 207.60,137.01 209.74,140.30 211.89,140.14 214.03,136.88 216.18,137.46 218.32,140.50 220.46,139.30 222.61,136.51 224.75,138.25 226.90,140.50 229.04,138.15 231.18,136.55 233.33,139.24 235.47,139.92 237.62,137.02 239.76,137.25 241.90,139.93 244.05,138.70 246.19,136.49 248.34,138.43 250.48,139.78 252.62,137.32 254.77,136.91 256.91,139.38 259.06,138.73 261.20,136.55 263.34,138.01 265.49,139.63 267.63,137.51 269.78,136.77 271.92,139.34 274.06,139.13 276.21,136.62 278.35,137.89 280.50,140.06 282.64,138.00 284.78,136.58 286.93,139.28 289.07,139.87 291.22,136.96 293.36,137.35 295.50,140.28 297.65,139.09 299.79,136.48 301.94,138.44 304.08,140.69 306.22,138.25 308.37,136.51 310.51,139.38 312.66,140.74 314.80,137.68 316.94,136.72 319.09,139.98 321.23,140.77 323.38,137.48 325.52,136.82 327.66,140.30 329.81,141.32 331.95,137.39 334.10,135.97 336.24,140.39 338.38,142.63 340.53,138.07 342.67,134.78 344.82,139.17 346.96,143.89 349.10,140.43 351.25,134.33 353.39,136.10 355.54,143.33 357.68,144.26 359.82,136.87 361.97,132.70 364.11,138.11 366.26,144.71" fill="none" stroke="#00f" stroke-width="0.9" stroke-linejoin="round"/>
<rect x="153.7" y="96.3" width="212.3" height="70.1" fill="none" stroke="#555" stroke-width="0.7"/>
<line x1="153.9" y1="166.40" x2="156" y2="166.40" stroke="#555" stroke-width="0.6"/><line x1="363.9" y1="166.40" x2="366" y2="166.40" stroke="#555" stroke-width="0.6"/>
<text x="152.2" y="168.50" font-size="6.6" text-anchor="end" font-family="Liberation Sans, Arial, sans-serif" fill="#222">0</text>
<line x1="153.9" y1="154.20" x2="156" y2="154.20" stroke="#555" stroke-width="0.6"/><line x1="363.9" y1="154.20" x2="366" y2="154.20" stroke="#555" stroke-width="0.6"/>
<text x="152.2" y="156.30" font-size="6.6" text-anchor="end" font-family="Liberation Sans, Arial, sans-serif" fill="#222">0.2</text>
<line x1="153.9" y1="142.00" x2="156" y2="142.00" stroke="#555" stroke-width="0.6"/><line x1="363.9" y1="142.00" x2="366" y2="142.00" stroke="#555" stroke-width="0.6"/>
<text x="152.2" y="144.10" font-size="6.6" text-anchor="end" font-family="Liberation Sans, Arial, sans-serif" fill="#222">0.4</text>
<line x1="153.9" y1="129.80" x2="156" y2="129.80" stroke="#555" stroke-width="0.6"/><line x1="363.9" y1="129.80" x2="366" y2="129.80" stroke="#555" stroke-width="0.6"/>
<text x="152.2" y="131.90" font-size="6.6" text-anchor="end" font-family="Liberation Sans, Arial, sans-serif" fill="#222">0.6</text>
<line x1="153.9" y1="117.60" x2="156" y2="117.60" stroke="#555" stroke-width="0.6"/><line x1="363.9" y1="117.60" x2="366" y2="117.60" stroke="#555" stroke-width="0.6"/>
<text x="152.2" y="119.70" font-size="6.6" text-anchor="end" font-family="Liberation Sans, Arial, sans-serif" fill="#222">0.8</text>
<line x1="153.9" y1="105.40" x2="156" y2="105.40" stroke="#555" stroke-width="0.6"/><line x1="363.9" y1="105.40" x2="366" y2="105.40" stroke="#555" stroke-width="0.6"/>
<text x="152.2" y="107.50" font-size="6.6" text-anchor="end" font-family="Liberation Sans, Arial, sans-serif" fill="#222">1</text>
<line x1="173.30" y1="166.4" x2="173.30" y2="164.3" stroke="#555" stroke-width="0.6"/><line x1="173.30" y1="96.3" x2="173.30" y2="98.4" stroke="#555" stroke-width="0.6"/>
<text x="173.30" y="171.9" font-size="6.6" text-anchor="middle" font-family="Liberation Sans, Arial, sans-serif" fill="#222">210</text>
<line x1="194.74" y1="166.4" x2="194.74" y2="164.3" stroke="#555" stroke-width="0.6"/><line x1="194.74" y1="96.3" x2="194.74" y2="98.4" stroke="#555" stroke-width="0.6"/>
<text x="194.74" y="171.9" font-size="6.6" text-anchor="middle" font-family="Liberation Sans, Arial, sans-serif" fill="#222">220</text>
<line x1="216.18" y1="166.4" x2="216.18" y2="164.3" stroke="#555" stroke-width="0.6"/><line x1="216.18" y1="96.3" x2="216.18" y2="98.4" stroke="#555" stroke-width="0.6"/>
<text x="216.18" y="171.9" font-size="6.6" text-anchor="middle" font-family="Liberation Sans, Arial, sans-serif" fill="#222">230</text>
<line x1="237.62" y1="166.4" x2="237.62" y2="164.3" stroke="#555" stroke-width="0.6"/><line x1="237.62" y1="96.3" x2="237.62" y2="98.4" stroke="#555" stroke-width="0.6"/>
<text x="237.62" y="171.9" font-size="6.6" text-anchor="middle" font-family="Liberation Sans, Arial, sans-serif" fill="#222">240</text>
<line x1="259.06" y1="166.4" x2="259.06" y2="164.3" stroke="#555" stroke-width="0.6"/><line x1="259.06" y1="96.3" x2="259.06" y2="98.4" stroke="#555" stroke-width="0.6"/>
<text x="259.06" y="171.9" font-size="6.6" text-anchor="middle" font-family="Liberation Sans, Arial, sans-serif" fill="#222">250</text>
<line x1="280.50" y1="166.4" x2="280.50" y2="164.3" stroke="#555" stroke-width="0.6"/><line x1="280.50" y1="96.3" x2="280.50" y2="98.4" stroke="#555" stroke-width="0.6"/>
<text x="280.50" y="171.9" font-size="6.6" text-anchor="middle" font-family="Liberation Sans, Arial, sans-serif" fill="#222">260</text>
<line x1="301.94" y1="166.4" x2="301.94" y2="164.3" stroke="#555" stroke-width="0.6"/><line x1="301.94" y1="96.3" x2="301.94" y2="98.4" stroke="#555" stroke-width="0.6"/>
<text x="301.94" y="171.9" font-size="6.6" text-anchor="middle" font-family="Liberation Sans, Arial, sans-serif" fill="#222">270</text>
<line x1="323.38" y1="166.4" x2="323.38" y2="164.3" stroke="#555" stroke-width="0.6"/><line x1="323.38" y1="96.3" x2="323.38" y2="98.4" stroke="#555" stroke-width="0.6"/>
<text x="323.38" y="171.9" font-size="6.6" text-anchor="middle" font-family="Liberation Sans, Arial, sans-serif" fill="#222">280</text>
<line x1="344.82" y1="166.4" x2="344.82" y2="164.3" stroke="#555" stroke-width="0.6"/><line x1="344.82" y1="96.3" x2="344.82" y2="98.4" stroke="#555" stroke-width="0.6"/>
<text x="344.82" y="171.9" font-size="6.6" text-anchor="middle" font-family="Liberation Sans, Arial, sans-serif" fill="#222">290</text>
<line x1="366.26" y1="166.4" x2="366.26" y2="164.3" stroke="#555" stroke-width="0.6"/><line x1="366.26" y1="96.3" x2="366.26" y2="98.4" stroke="#555" stroke-width="0.6"/>
<text x="366.26" y="171.9" font-size="6.6" text-anchor="middle" font-family="Liberation Sans, Arial, sans-serif" fill="#222">300</text>
<text transform="translate(140.6,133.8) rotate(-90)" font-size="6.6" text-anchor="middle" font-family="Liberation Sans, Arial, sans-serif" fill="#222">Intensity (A.U.)</text>
<text x="230" y="179.5" font-size="6.4" font-family="Liberation Sans, Arial, sans-serif" fill="#222">Position <tspan font-family="Liberation Serif, serif" font-style="italic">y</tspan> (pixel)</text>
</g>
</svg>
</body></html>
